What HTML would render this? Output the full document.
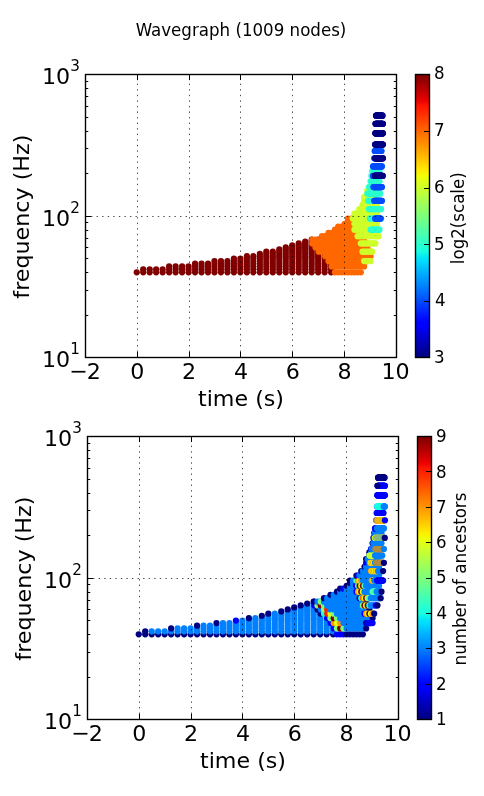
<!DOCTYPE html>
<html><head><meta charset="utf-8"><title>Wavegraph</title>
<style>html,body{margin:0;padding:0;background:#fff;width:484px;height:796px;overflow:hidden}svg{display:block}</style>
</head><body>
<svg width="484" height="796" viewBox="0 0 484 796">
<defs><linearGradient id="jetg" x1="0" y1="0" x2="0" y2="1"><stop offset="0.0000" stop-color="#800000"/><stop offset="0.0500" stop-color="#b60000"/><stop offset="0.0900" stop-color="#e80000"/><stop offset="0.1000" stop-color="#f10800"/><stop offset="0.1100" stop-color="#ff1300"/><stop offset="0.1500" stop-color="#ff3800"/><stop offset="0.2000" stop-color="#ff6800"/><stop offset="0.2500" stop-color="#ff9400"/><stop offset="0.3000" stop-color="#ffc400"/><stop offset="0.3400" stop-color="#feed00"/><stop offset="0.3500" stop-color="#f8f500"/><stop offset="0.3600" stop-color="#eeff09"/><stop offset="0.4000" stop-color="#ceff29"/><stop offset="0.4500" stop-color="#a4ff53"/><stop offset="0.5000" stop-color="#7dff7a"/><stop offset="0.5500" stop-color="#53ffa4"/><stop offset="0.6000" stop-color="#29ffce"/><stop offset="0.6250" stop-color="#16ffe1"/><stop offset="0.6500" stop-color="#00e4f8"/><stop offset="0.6500" stop-color="#00e4f8"/><stop offset="0.6600" stop-color="#00dcfe"/><stop offset="0.7000" stop-color="#00b0ff"/><stop offset="0.7500" stop-color="#0080ff"/><stop offset="0.8000" stop-color="#004cff"/><stop offset="0.8500" stop-color="#0018ff"/><stop offset="0.8750" stop-color="#0000ff"/><stop offset="0.8900" stop-color="#0000ff"/><stop offset="0.9000" stop-color="#0000f1"/><stop offset="0.9500" stop-color="#0000b6"/><stop offset="1.0000" stop-color="#000080"/></linearGradient>
<clipPath id="clip0"><rect x="85.5" y="74.5" width="311.0" height="283.0"/></clipPath>
<clipPath id="clip1"><rect x="87.5" y="436.5" width="311.0" height="283.0"/></clipPath></defs>
<rect width="484" height="796" fill="#fff"/>
<g font-family="'DejaVu Sans','Liberation Sans',sans-serif" fill="#000"><text transform="translate(241.00 35.80) scale(1 1.070)" text-anchor="middle" font-size="16.67">Wavegraph (1009 nodes)</text></g>
<g clip-path="url(#clip0)"><circle cx="136.74" cy="272.31" r="3.10" fill="#800000"/><circle cx="143.22" cy="272.31" r="3.10" fill="#800000"/><circle cx="143.22" cy="269.31" r="3.10" fill="#800000"/><circle cx="149.70" cy="272.31" r="3.10" fill="#800000"/><circle cx="149.70" cy="269.31" r="3.10" fill="#800000"/><circle cx="156.17" cy="272.31" r="3.10" fill="#800000"/><circle cx="156.17" cy="269.31" r="3.10" fill="#800000"/><circle cx="162.65" cy="272.31" r="3.10" fill="#800000"/><circle cx="162.65" cy="269.31" r="3.10" fill="#800000"/><circle cx="169.13" cy="272.31" r="3.10" fill="#800000"/><circle cx="169.13" cy="269.31" r="3.10" fill="#800000"/><circle cx="169.13" cy="266.45" r="3.10" fill="#800000"/><circle cx="175.61" cy="272.31" r="3.10" fill="#800000"/><circle cx="175.61" cy="269.31" r="3.10" fill="#800000"/><circle cx="175.61" cy="266.45" r="3.10" fill="#800000"/><circle cx="182.09" cy="272.31" r="3.10" fill="#800000"/><circle cx="182.09" cy="269.31" r="3.10" fill="#800000"/><circle cx="182.09" cy="266.45" r="3.10" fill="#800000"/><circle cx="188.57" cy="272.31" r="3.10" fill="#800000"/><circle cx="188.57" cy="269.31" r="3.10" fill="#800000"/><circle cx="188.57" cy="266.45" r="3.10" fill="#800000"/><circle cx="195.05" cy="272.31" r="3.10" fill="#800000"/><circle cx="195.05" cy="269.31" r="3.10" fill="#800000"/><circle cx="195.05" cy="266.45" r="3.10" fill="#800000"/><circle cx="195.05" cy="263.72" r="3.10" fill="#800000"/><circle cx="201.53" cy="272.31" r="3.10" fill="#800000"/><circle cx="201.53" cy="269.31" r="3.10" fill="#800000"/><circle cx="201.53" cy="266.45" r="3.10" fill="#800000"/><circle cx="201.53" cy="263.72" r="3.10" fill="#800000"/><circle cx="208.01" cy="272.31" r="3.10" fill="#800000"/><circle cx="208.01" cy="269.31" r="3.10" fill="#800000"/><circle cx="208.01" cy="266.45" r="3.10" fill="#800000"/><circle cx="208.01" cy="263.72" r="3.10" fill="#800000"/><circle cx="214.49" cy="272.31" r="3.10" fill="#800000"/><circle cx="214.49" cy="269.31" r="3.10" fill="#800000"/><circle cx="214.49" cy="266.45" r="3.10" fill="#800000"/><circle cx="214.49" cy="263.72" r="3.10" fill="#800000"/><circle cx="214.49" cy="261.10" r="3.10" fill="#800000"/><circle cx="220.97" cy="272.31" r="3.10" fill="#800000"/><circle cx="220.97" cy="269.31" r="3.10" fill="#800000"/><circle cx="220.97" cy="266.45" r="3.10" fill="#800000"/><circle cx="220.97" cy="263.72" r="3.10" fill="#800000"/><circle cx="220.97" cy="261.10" r="3.10" fill="#800000"/><circle cx="227.45" cy="272.31" r="3.10" fill="#800000"/><circle cx="227.45" cy="269.31" r="3.10" fill="#800000"/><circle cx="227.45" cy="266.45" r="3.10" fill="#800000"/><circle cx="227.45" cy="263.72" r="3.10" fill="#800000"/><circle cx="227.45" cy="261.10" r="3.10" fill="#800000"/><circle cx="233.92" cy="272.31" r="3.10" fill="#800000"/><circle cx="233.92" cy="269.31" r="3.10" fill="#800000"/><circle cx="233.92" cy="266.45" r="3.10" fill="#800000"/><circle cx="233.92" cy="263.72" r="3.10" fill="#800000"/><circle cx="233.92" cy="261.10" r="3.10" fill="#800000"/><circle cx="233.92" cy="258.60" r="3.10" fill="#800000"/><circle cx="240.40" cy="272.31" r="3.10" fill="#800000"/><circle cx="240.40" cy="269.31" r="3.10" fill="#800000"/><circle cx="240.40" cy="266.45" r="3.10" fill="#800000"/><circle cx="240.40" cy="263.72" r="3.10" fill="#800000"/><circle cx="240.40" cy="261.10" r="3.10" fill="#800000"/><circle cx="240.40" cy="258.60" r="3.10" fill="#800000"/><circle cx="246.88" cy="272.31" r="3.10" fill="#800000"/><circle cx="246.88" cy="269.31" r="3.10" fill="#800000"/><circle cx="246.88" cy="266.45" r="3.10" fill="#800000"/><circle cx="246.88" cy="263.72" r="3.10" fill="#800000"/><circle cx="246.88" cy="261.10" r="3.10" fill="#800000"/><circle cx="246.88" cy="258.60" r="3.10" fill="#800000"/><circle cx="246.88" cy="256.19" r="3.10" fill="#800000"/><circle cx="253.36" cy="272.31" r="3.10" fill="#800000"/><circle cx="253.36" cy="269.31" r="3.10" fill="#800000"/><circle cx="253.36" cy="266.45" r="3.10" fill="#800000"/><circle cx="253.36" cy="263.72" r="3.10" fill="#800000"/><circle cx="253.36" cy="261.10" r="3.10" fill="#800000"/><circle cx="253.36" cy="258.60" r="3.10" fill="#800000"/><circle cx="253.36" cy="256.19" r="3.10" fill="#800000"/><circle cx="259.84" cy="272.31" r="3.10" fill="#800000"/><circle cx="259.84" cy="269.31" r="3.10" fill="#800000"/><circle cx="259.84" cy="266.45" r="3.10" fill="#800000"/><circle cx="259.84" cy="263.72" r="3.10" fill="#800000"/><circle cx="259.84" cy="261.10" r="3.10" fill="#800000"/><circle cx="259.84" cy="258.60" r="3.10" fill="#800000"/><circle cx="259.84" cy="256.19" r="3.10" fill="#800000"/><circle cx="259.84" cy="253.87" r="3.10" fill="#800000"/><circle cx="266.32" cy="272.31" r="3.10" fill="#800000"/><circle cx="266.32" cy="269.31" r="3.10" fill="#800000"/><circle cx="266.32" cy="266.45" r="3.10" fill="#800000"/><circle cx="266.32" cy="263.72" r="3.10" fill="#800000"/><circle cx="266.32" cy="261.10" r="3.10" fill="#800000"/><circle cx="266.32" cy="258.60" r="3.10" fill="#800000"/><circle cx="266.32" cy="256.19" r="3.10" fill="#800000"/><circle cx="266.32" cy="253.87" r="3.10" fill="#800000"/><circle cx="266.32" cy="251.63" r="3.10" fill="#800000"/><circle cx="272.80" cy="272.31" r="3.10" fill="#800000"/><circle cx="272.80" cy="269.31" r="3.10" fill="#800000"/><circle cx="272.80" cy="266.45" r="3.10" fill="#800000"/><circle cx="272.80" cy="263.72" r="3.10" fill="#800000"/><circle cx="272.80" cy="261.10" r="3.10" fill="#800000"/><circle cx="272.80" cy="258.60" r="3.10" fill="#800000"/><circle cx="272.80" cy="256.19" r="3.10" fill="#800000"/><circle cx="272.80" cy="253.87" r="3.10" fill="#800000"/><circle cx="272.80" cy="251.63" r="3.10" fill="#800000"/><circle cx="279.28" cy="272.31" r="3.10" fill="#800000"/><circle cx="279.28" cy="269.31" r="3.10" fill="#800000"/><circle cx="279.28" cy="266.45" r="3.10" fill="#800000"/><circle cx="279.28" cy="263.72" r="3.10" fill="#800000"/><circle cx="279.28" cy="261.10" r="3.10" fill="#800000"/><circle cx="279.28" cy="258.60" r="3.10" fill="#800000"/><circle cx="279.28" cy="256.19" r="3.10" fill="#800000"/><circle cx="279.28" cy="253.87" r="3.10" fill="#800000"/><circle cx="279.28" cy="251.63" r="3.10" fill="#800000"/><circle cx="279.28" cy="249.47" r="3.10" fill="#800000"/><circle cx="285.76" cy="272.31" r="3.10" fill="#800000"/><circle cx="285.76" cy="269.31" r="3.10" fill="#800000"/><circle cx="285.76" cy="266.45" r="3.10" fill="#800000"/><circle cx="285.76" cy="263.72" r="3.10" fill="#800000"/><circle cx="285.76" cy="261.10" r="3.10" fill="#800000"/><circle cx="285.76" cy="258.60" r="3.10" fill="#800000"/><circle cx="285.76" cy="256.19" r="3.10" fill="#800000"/><circle cx="285.76" cy="253.87" r="3.10" fill="#800000"/><circle cx="285.76" cy="251.63" r="3.10" fill="#800000"/><circle cx="285.76" cy="249.47" r="3.10" fill="#800000"/><circle cx="285.76" cy="247.39" r="3.10" fill="#800000"/><circle cx="292.24" cy="272.31" r="3.10" fill="#800000"/><circle cx="292.24" cy="269.31" r="3.10" fill="#800000"/><circle cx="292.24" cy="266.45" r="3.10" fill="#800000"/><circle cx="292.24" cy="263.72" r="3.10" fill="#800000"/><circle cx="292.24" cy="261.10" r="3.10" fill="#800000"/><circle cx="292.24" cy="258.60" r="3.10" fill="#800000"/><circle cx="292.24" cy="256.19" r="3.10" fill="#800000"/><circle cx="292.24" cy="253.87" r="3.10" fill="#800000"/><circle cx="292.24" cy="251.63" r="3.10" fill="#800000"/><circle cx="292.24" cy="249.47" r="3.10" fill="#800000"/><circle cx="292.24" cy="247.39" r="3.10" fill="#800000"/><circle cx="292.24" cy="245.38" r="3.10" fill="#800000"/><circle cx="298.72" cy="272.31" r="3.10" fill="#800000"/><circle cx="298.72" cy="269.31" r="3.10" fill="#800000"/><circle cx="298.72" cy="266.45" r="3.10" fill="#800000"/><circle cx="298.72" cy="263.72" r="3.10" fill="#800000"/><circle cx="298.72" cy="261.10" r="3.10" fill="#800000"/><circle cx="298.72" cy="258.60" r="3.10" fill="#800000"/><circle cx="298.72" cy="256.19" r="3.10" fill="#800000"/><circle cx="298.72" cy="253.87" r="3.10" fill="#800000"/><circle cx="298.72" cy="251.63" r="3.10" fill="#800000"/><circle cx="298.72" cy="249.47" r="3.10" fill="#800000"/><circle cx="298.72" cy="247.39" r="3.10" fill="#800000"/><circle cx="298.72" cy="245.38" r="3.10" fill="#800000"/><circle cx="298.72" cy="243.43" r="3.10" fill="#800000"/><circle cx="305.20" cy="272.31" r="3.10" fill="#800000"/><circle cx="305.20" cy="269.31" r="3.10" fill="#800000"/><circle cx="305.20" cy="266.45" r="3.10" fill="#800000"/><circle cx="305.20" cy="263.72" r="3.10" fill="#800000"/><circle cx="305.20" cy="261.10" r="3.10" fill="#800000"/><circle cx="305.20" cy="258.60" r="3.10" fill="#800000"/><circle cx="305.20" cy="256.19" r="3.10" fill="#800000"/><circle cx="305.20" cy="253.87" r="3.10" fill="#800000"/><circle cx="305.20" cy="251.63" r="3.10" fill="#800000"/><circle cx="305.20" cy="249.47" r="3.10" fill="#800000"/><circle cx="305.20" cy="247.39" r="3.10" fill="#800000"/><circle cx="305.20" cy="245.38" r="3.10" fill="#800000"/><circle cx="305.20" cy="243.43" r="3.10" fill="#800000"/><circle cx="305.20" cy="241.53" r="3.10" fill="#800000"/><circle cx="311.67" cy="272.31" r="3.10" fill="#800000"/><circle cx="311.67" cy="269.31" r="3.10" fill="#800000"/><circle cx="311.67" cy="266.45" r="3.10" fill="#800000"/><circle cx="311.67" cy="263.72" r="3.10" fill="#800000"/><circle cx="311.67" cy="261.10" r="3.10" fill="#800000"/><circle cx="311.67" cy="258.60" r="3.10" fill="#800000"/><circle cx="311.67" cy="256.19" r="3.10" fill="#800000"/><circle cx="311.67" cy="253.87" r="3.10" fill="#800000"/><circle cx="311.67" cy="251.63" r="3.10" fill="#800000"/><circle cx="311.67" cy="249.47" r="3.10" fill="#800000"/><circle cx="311.67" cy="247.39" r="3.10" fill="#800000"/><circle cx="311.67" cy="245.38" r="3.10" fill="#800000"/><circle cx="311.67" cy="243.43" r="3.10" fill="#800000"/><circle cx="311.67" cy="241.53" r="3.10" fill="#800000"/><circle cx="311.67" cy="239.70" r="3.10" fill="#800000"/><circle cx="318.15" cy="272.31" r="3.10" fill="#800000"/><circle cx="318.15" cy="269.31" r="3.10" fill="#800000"/><circle cx="318.15" cy="266.45" r="3.10" fill="#800000"/><circle cx="318.15" cy="263.72" r="3.10" fill="#800000"/><circle cx="318.15" cy="261.10" r="3.10" fill="#800000"/><circle cx="318.15" cy="258.60" r="3.10" fill="#800000"/><circle cx="318.15" cy="256.19" r="3.10" fill="#800000"/><circle cx="318.15" cy="253.87" r="3.10" fill="#800000"/><circle cx="318.15" cy="251.63" r="3.10" fill="#800000"/><circle cx="318.15" cy="249.47" r="3.10" fill="#800000"/><circle cx="318.15" cy="247.39" r="3.10" fill="#800000"/><circle cx="318.15" cy="245.38" r="3.10" fill="#800000"/><circle cx="318.15" cy="243.43" r="3.10" fill="#800000"/><circle cx="318.15" cy="241.53" r="3.10" fill="#800000"/><circle cx="318.15" cy="239.70" r="3.10" fill="#800000"/><circle cx="324.63" cy="272.31" r="3.10" fill="#800000"/><circle cx="324.63" cy="269.31" r="3.10" fill="#800000"/><circle cx="324.63" cy="266.45" r="3.10" fill="#800000"/><circle cx="324.63" cy="263.72" r="3.10" fill="#800000"/><circle cx="324.63" cy="261.10" r="3.10" fill="#800000"/><circle cx="324.63" cy="258.60" r="3.10" fill="#800000"/><circle cx="324.63" cy="256.19" r="3.10" fill="#800000"/><circle cx="324.63" cy="253.87" r="3.10" fill="#800000"/><circle cx="324.63" cy="251.63" r="3.10" fill="#800000"/><circle cx="324.63" cy="249.47" r="3.10" fill="#800000"/><circle cx="324.63" cy="247.39" r="3.10" fill="#800000"/><circle cx="324.63" cy="245.38" r="3.10" fill="#800000"/><circle cx="324.63" cy="243.43" r="3.10" fill="#800000"/><circle cx="324.63" cy="241.53" r="3.10" fill="#800000"/><circle cx="324.63" cy="239.70" r="3.10" fill="#800000"/><circle cx="324.63" cy="237.92" r="3.10" fill="#800000"/><circle cx="331.11" cy="272.31" r="3.10" fill="#800000"/><circle cx="331.11" cy="269.31" r="3.10" fill="#800000"/><circle cx="331.11" cy="266.45" r="3.10" fill="#800000"/><circle cx="331.11" cy="263.72" r="3.10" fill="#800000"/><circle cx="331.11" cy="261.10" r="3.10" fill="#800000"/><circle cx="331.11" cy="258.60" r="3.10" fill="#800000"/><circle cx="331.11" cy="256.19" r="3.10" fill="#800000"/><circle cx="331.11" cy="253.87" r="3.10" fill="#800000"/><circle cx="331.11" cy="251.63" r="3.10" fill="#800000"/><circle cx="331.11" cy="249.47" r="3.10" fill="#800000"/><circle cx="331.11" cy="247.39" r="3.10" fill="#800000"/><circle cx="331.11" cy="245.38" r="3.10" fill="#800000"/><circle cx="331.11" cy="243.43" r="3.10" fill="#800000"/><circle cx="331.11" cy="241.53" r="3.10" fill="#800000"/><circle cx="331.11" cy="239.70" r="3.10" fill="#800000"/><circle cx="331.11" cy="237.92" r="3.10" fill="#800000"/><circle cx="331.11" cy="236.19" r="3.10" fill="#800000"/><circle cx="312.27" cy="243.43" r="3.10" fill="#ff6800"/><circle cx="312.27" cy="239.70" r="3.10" fill="#ff6800"/><circle cx="315.51" cy="247.39" r="3.10" fill="#ff6800"/><circle cx="315.51" cy="243.43" r="3.10" fill="#ff6800"/><circle cx="315.51" cy="239.70" r="3.10" fill="#ff6800"/><circle cx="318.75" cy="251.63" r="3.10" fill="#ff6800"/><circle cx="318.75" cy="247.39" r="3.10" fill="#ff6800"/><circle cx="318.75" cy="243.43" r="3.10" fill="#ff6800"/><circle cx="318.75" cy="239.70" r="3.10" fill="#ff6800"/><circle cx="321.99" cy="251.63" r="3.10" fill="#ff6800"/><circle cx="321.99" cy="247.39" r="3.10" fill="#ff6800"/><circle cx="321.99" cy="243.43" r="3.10" fill="#ff6800"/><circle cx="321.99" cy="239.70" r="3.10" fill="#ff6800"/><circle cx="321.99" cy="236.19" r="3.10" fill="#ff6800"/><circle cx="325.23" cy="256.19" r="3.10" fill="#ff6800"/><circle cx="325.23" cy="251.63" r="3.10" fill="#ff6800"/><circle cx="325.23" cy="247.39" r="3.10" fill="#ff6800"/><circle cx="325.23" cy="243.43" r="3.10" fill="#ff6800"/><circle cx="325.23" cy="239.70" r="3.10" fill="#ff6800"/><circle cx="325.23" cy="236.19" r="3.10" fill="#ff6800"/><circle cx="328.47" cy="261.10" r="3.10" fill="#ff6800"/><circle cx="328.47" cy="256.19" r="3.10" fill="#ff6800"/><circle cx="328.47" cy="251.63" r="3.10" fill="#ff6800"/><circle cx="328.47" cy="247.39" r="3.10" fill="#ff6800"/><circle cx="328.47" cy="243.43" r="3.10" fill="#ff6800"/><circle cx="328.47" cy="239.70" r="3.10" fill="#ff6800"/><circle cx="328.47" cy="236.19" r="3.10" fill="#ff6800"/><circle cx="328.47" cy="232.86" r="3.10" fill="#ff6800"/><circle cx="331.71" cy="266.45" r="3.10" fill="#ff6800"/><circle cx="331.71" cy="261.10" r="3.10" fill="#ff6800"/><circle cx="331.71" cy="256.19" r="3.10" fill="#ff6800"/><circle cx="331.71" cy="251.63" r="3.10" fill="#ff6800"/><circle cx="331.71" cy="247.39" r="3.10" fill="#ff6800"/><circle cx="331.71" cy="243.43" r="3.10" fill="#ff6800"/><circle cx="331.71" cy="239.70" r="3.10" fill="#ff6800"/><circle cx="331.71" cy="236.19" r="3.10" fill="#ff6800"/><circle cx="331.71" cy="232.86" r="3.10" fill="#ff6800"/><circle cx="334.95" cy="272.31" r="3.10" fill="#ff6800"/><circle cx="334.95" cy="266.45" r="3.10" fill="#ff6800"/><circle cx="334.95" cy="261.10" r="3.10" fill="#ff6800"/><circle cx="334.95" cy="256.19" r="3.10" fill="#ff6800"/><circle cx="334.95" cy="251.63" r="3.10" fill="#ff6800"/><circle cx="334.95" cy="247.39" r="3.10" fill="#ff6800"/><circle cx="334.95" cy="243.43" r="3.10" fill="#ff6800"/><circle cx="334.95" cy="239.70" r="3.10" fill="#ff6800"/><circle cx="334.95" cy="236.19" r="3.10" fill="#ff6800"/><circle cx="334.95" cy="232.86" r="3.10" fill="#ff6800"/><circle cx="334.95" cy="229.71" r="3.10" fill="#ff6800"/><circle cx="338.19" cy="272.31" r="3.10" fill="#ff6800"/><circle cx="338.19" cy="266.45" r="3.10" fill="#ff6800"/><circle cx="338.19" cy="261.10" r="3.10" fill="#ff6800"/><circle cx="338.19" cy="256.19" r="3.10" fill="#ff6800"/><circle cx="338.19" cy="251.63" r="3.10" fill="#ff6800"/><circle cx="338.19" cy="247.39" r="3.10" fill="#ff6800"/><circle cx="338.19" cy="243.43" r="3.10" fill="#ff6800"/><circle cx="338.19" cy="239.70" r="3.10" fill="#ff6800"/><circle cx="338.19" cy="236.19" r="3.10" fill="#ff6800"/><circle cx="338.19" cy="232.86" r="3.10" fill="#ff6800"/><circle cx="338.19" cy="229.71" r="3.10" fill="#ff6800"/><circle cx="338.19" cy="226.71" r="3.10" fill="#ff6800"/><circle cx="341.43" cy="272.31" r="3.10" fill="#ff6800"/><circle cx="341.43" cy="266.45" r="3.10" fill="#ff6800"/><circle cx="341.43" cy="261.10" r="3.10" fill="#ff6800"/><circle cx="341.43" cy="256.19" r="3.10" fill="#ff6800"/><circle cx="341.43" cy="251.63" r="3.10" fill="#ff6800"/><circle cx="341.43" cy="247.39" r="3.10" fill="#ff6800"/><circle cx="341.43" cy="243.43" r="3.10" fill="#ff6800"/><circle cx="341.43" cy="239.70" r="3.10" fill="#ff6800"/><circle cx="341.43" cy="236.19" r="3.10" fill="#ff6800"/><circle cx="341.43" cy="232.86" r="3.10" fill="#ff6800"/><circle cx="341.43" cy="229.71" r="3.10" fill="#ff6800"/><circle cx="341.43" cy="226.71" r="3.10" fill="#ff6800"/><circle cx="344.67" cy="272.31" r="3.10" fill="#ff6800"/><circle cx="344.67" cy="266.45" r="3.10" fill="#ff6800"/><circle cx="344.67" cy="261.10" r="3.10" fill="#ff6800"/><circle cx="344.67" cy="256.19" r="3.10" fill="#ff6800"/><circle cx="344.67" cy="251.63" r="3.10" fill="#ff6800"/><circle cx="344.67" cy="247.39" r="3.10" fill="#ff6800"/><circle cx="344.67" cy="243.43" r="3.10" fill="#ff6800"/><circle cx="344.67" cy="239.70" r="3.10" fill="#ff6800"/><circle cx="344.67" cy="236.19" r="3.10" fill="#ff6800"/><circle cx="344.67" cy="232.86" r="3.10" fill="#ff6800"/><circle cx="344.67" cy="229.71" r="3.10" fill="#ff6800"/><circle cx="344.67" cy="226.71" r="3.10" fill="#ff6800"/><circle cx="344.67" cy="223.86" r="3.10" fill="#ff6800"/><circle cx="347.91" cy="272.31" r="3.10" fill="#ff6800"/><circle cx="347.91" cy="266.45" r="3.10" fill="#ff6800"/><circle cx="347.91" cy="261.10" r="3.10" fill="#ff6800"/><circle cx="347.91" cy="256.19" r="3.10" fill="#ff6800"/><circle cx="347.91" cy="251.63" r="3.10" fill="#ff6800"/><circle cx="347.91" cy="247.39" r="3.10" fill="#ff6800"/><circle cx="347.91" cy="243.43" r="3.10" fill="#ff6800"/><circle cx="347.91" cy="239.70" r="3.10" fill="#ff6800"/><circle cx="347.91" cy="236.19" r="3.10" fill="#ff6800"/><circle cx="347.91" cy="232.86" r="3.10" fill="#ff6800"/><circle cx="347.91" cy="229.71" r="3.10" fill="#ff6800"/><circle cx="347.91" cy="226.71" r="3.10" fill="#ff6800"/><circle cx="347.91" cy="223.86" r="3.10" fill="#ff6800"/><circle cx="347.91" cy="221.12" r="3.10" fill="#ff6800"/><circle cx="347.91" cy="218.51" r="3.10" fill="#ff6800"/><circle cx="351.15" cy="272.31" r="3.10" fill="#ff6800"/><circle cx="351.15" cy="266.45" r="3.10" fill="#ff6800"/><circle cx="351.15" cy="261.10" r="3.10" fill="#ff6800"/><circle cx="351.15" cy="256.19" r="3.10" fill="#ff6800"/><circle cx="351.15" cy="251.63" r="3.10" fill="#ff6800"/><circle cx="351.15" cy="247.39" r="3.10" fill="#ff6800"/><circle cx="351.15" cy="243.43" r="3.10" fill="#ff6800"/><circle cx="351.15" cy="239.70" r="3.10" fill="#ff6800"/><circle cx="351.15" cy="236.19" r="3.10" fill="#ff6800"/><circle cx="351.15" cy="232.86" r="3.10" fill="#ff6800"/><circle cx="351.15" cy="229.71" r="3.10" fill="#ff6800"/><circle cx="351.15" cy="226.71" r="3.10" fill="#ff6800"/><circle cx="351.15" cy="223.86" r="3.10" fill="#ff6800"/><circle cx="351.15" cy="221.12" r="3.10" fill="#ff6800"/><circle cx="351.15" cy="218.51" r="3.10" fill="#ff6800"/><circle cx="354.39" cy="272.31" r="3.10" fill="#ff6800"/><circle cx="354.39" cy="266.45" r="3.10" fill="#ff6800"/><circle cx="354.39" cy="261.10" r="3.10" fill="#ff6800"/><circle cx="354.39" cy="256.19" r="3.10" fill="#ff6800"/><circle cx="354.39" cy="251.63" r="3.10" fill="#ff6800"/><circle cx="354.39" cy="247.39" r="3.10" fill="#ff6800"/><circle cx="354.39" cy="243.43" r="3.10" fill="#ff6800"/><circle cx="354.39" cy="239.70" r="3.10" fill="#ff6800"/><circle cx="354.39" cy="236.19" r="3.10" fill="#ff6800"/><circle cx="354.39" cy="232.86" r="3.10" fill="#ff6800"/><circle cx="354.39" cy="229.71" r="3.10" fill="#ff6800"/><circle cx="354.39" cy="226.71" r="3.10" fill="#ff6800"/><circle cx="354.39" cy="223.86" r="3.10" fill="#ff6800"/><circle cx="354.39" cy="221.12" r="3.10" fill="#ff6800"/><circle cx="354.39" cy="218.51" r="3.10" fill="#ff6800"/><circle cx="357.62" cy="272.31" r="3.10" fill="#ff6800"/><circle cx="357.62" cy="266.45" r="3.10" fill="#ff6800"/><circle cx="357.62" cy="261.10" r="3.10" fill="#ff6800"/><circle cx="357.62" cy="256.19" r="3.10" fill="#ff6800"/><circle cx="357.62" cy="251.63" r="3.10" fill="#ff6800"/><circle cx="357.62" cy="247.39" r="3.10" fill="#ff6800"/><circle cx="357.62" cy="243.43" r="3.10" fill="#ff6800"/><circle cx="357.62" cy="239.70" r="3.10" fill="#ff6800"/><circle cx="357.62" cy="236.19" r="3.10" fill="#ff6800"/><circle cx="357.62" cy="232.86" r="3.10" fill="#ff6800"/><circle cx="357.62" cy="229.71" r="3.10" fill="#ff6800"/><circle cx="357.62" cy="226.71" r="3.10" fill="#ff6800"/><circle cx="360.86" cy="272.31" r="3.10" fill="#ff6800"/><circle cx="360.86" cy="266.45" r="3.10" fill="#ff6800"/><circle cx="360.86" cy="261.10" r="3.10" fill="#ff6800"/><circle cx="360.86" cy="256.19" r="3.10" fill="#ff6800"/><circle cx="360.86" cy="251.63" r="3.10" fill="#ff6800"/><circle cx="360.86" cy="247.39" r="3.10" fill="#ff6800"/><circle cx="360.86" cy="243.43" r="3.10" fill="#ff6800"/><circle cx="360.86" cy="239.70" r="3.10" fill="#ff6800"/><circle cx="360.86" cy="236.19" r="3.10" fill="#ff6800"/><circle cx="360.86" cy="232.86" r="3.10" fill="#ff6800"/><circle cx="364.10" cy="266.45" r="3.10" fill="#ff6800"/><circle cx="364.10" cy="261.10" r="3.10" fill="#ff6800"/><circle cx="364.10" cy="256.19" r="3.10" fill="#ff6800"/><circle cx="364.10" cy="251.63" r="3.10" fill="#ff6800"/><circle cx="364.10" cy="247.39" r="3.10" fill="#ff6800"/><circle cx="364.10" cy="243.43" r="3.10" fill="#ff6800"/><circle cx="364.10" cy="239.70" r="3.10" fill="#ff6800"/><circle cx="367.34" cy="261.10" r="3.10" fill="#ff6800"/><circle cx="367.34" cy="256.19" r="3.10" fill="#ff6800"/><circle cx="367.34" cy="251.63" r="3.10" fill="#ff6800"/><circle cx="367.34" cy="247.39" r="3.10" fill="#ff6800"/><circle cx="367.34" cy="243.43" r="3.10" fill="#ff6800"/><circle cx="370.58" cy="256.19" r="3.10" fill="#ff6800"/><circle cx="370.58" cy="251.63" r="3.10" fill="#ff6800"/><circle cx="352.77" cy="218.51" r="3.10" fill="#ceff29"/><circle cx="354.39" cy="229.71" r="3.10" fill="#ceff29"/><circle cx="354.39" cy="223.86" r="3.10" fill="#ceff29"/><circle cx="354.39" cy="218.51" r="3.10" fill="#ceff29"/><circle cx="354.39" cy="213.59" r="3.10" fill="#ceff29"/><circle cx="356.01" cy="229.71" r="3.10" fill="#ceff29"/><circle cx="356.01" cy="223.86" r="3.10" fill="#ceff29"/><circle cx="356.01" cy="218.51" r="3.10" fill="#ceff29"/><circle cx="356.01" cy="213.59" r="3.10" fill="#ceff29"/><circle cx="357.62" cy="236.19" r="3.10" fill="#ceff29"/><circle cx="357.62" cy="229.71" r="3.10" fill="#ceff29"/><circle cx="357.62" cy="223.86" r="3.10" fill="#ceff29"/><circle cx="357.62" cy="218.51" r="3.10" fill="#ceff29"/><circle cx="357.62" cy="213.59" r="3.10" fill="#ceff29"/><circle cx="359.24" cy="236.19" r="3.10" fill="#ceff29"/><circle cx="359.24" cy="229.71" r="3.10" fill="#ceff29"/><circle cx="359.24" cy="223.86" r="3.10" fill="#ceff29"/><circle cx="359.24" cy="218.51" r="3.10" fill="#ceff29"/><circle cx="359.24" cy="213.59" r="3.10" fill="#ceff29"/><circle cx="359.24" cy="209.04" r="3.10" fill="#ceff29"/><circle cx="360.86" cy="243.43" r="3.10" fill="#ceff29"/><circle cx="360.86" cy="236.19" r="3.10" fill="#ceff29"/><circle cx="360.86" cy="229.71" r="3.10" fill="#ceff29"/><circle cx="360.86" cy="223.86" r="3.10" fill="#ceff29"/><circle cx="360.86" cy="218.51" r="3.10" fill="#ceff29"/><circle cx="360.86" cy="213.59" r="3.10" fill="#ceff29"/><circle cx="360.86" cy="209.04" r="3.10" fill="#ceff29"/><circle cx="362.48" cy="251.63" r="3.10" fill="#ceff29"/><circle cx="362.48" cy="243.43" r="3.10" fill="#ceff29"/><circle cx="362.48" cy="236.19" r="3.10" fill="#ceff29"/><circle cx="362.48" cy="229.71" r="3.10" fill="#ceff29"/><circle cx="362.48" cy="223.86" r="3.10" fill="#ceff29"/><circle cx="362.48" cy="218.51" r="3.10" fill="#ceff29"/><circle cx="362.48" cy="213.59" r="3.10" fill="#ceff29"/><circle cx="362.48" cy="209.04" r="3.10" fill="#ceff29"/><circle cx="362.48" cy="204.80" r="3.10" fill="#ceff29"/><circle cx="364.10" cy="261.10" r="3.10" fill="#ceff29"/><circle cx="364.10" cy="251.63" r="3.10" fill="#ceff29"/><circle cx="364.10" cy="243.43" r="3.10" fill="#ceff29"/><circle cx="364.10" cy="236.19" r="3.10" fill="#ceff29"/><circle cx="364.10" cy="229.71" r="3.10" fill="#ceff29"/><circle cx="364.10" cy="223.86" r="3.10" fill="#ceff29"/><circle cx="364.10" cy="218.51" r="3.10" fill="#ceff29"/><circle cx="364.10" cy="213.59" r="3.10" fill="#ceff29"/><circle cx="364.10" cy="209.04" r="3.10" fill="#ceff29"/><circle cx="364.10" cy="204.80" r="3.10" fill="#ceff29"/><circle cx="364.10" cy="200.83" r="3.10" fill="#ceff29"/><circle cx="364.10" cy="197.10" r="3.10" fill="#ceff29"/><circle cx="365.72" cy="261.10" r="3.10" fill="#ceff29"/><circle cx="365.72" cy="251.63" r="3.10" fill="#ceff29"/><circle cx="365.72" cy="243.43" r="3.10" fill="#ceff29"/><circle cx="365.72" cy="236.19" r="3.10" fill="#ceff29"/><circle cx="365.72" cy="229.71" r="3.10" fill="#ceff29"/><circle cx="365.72" cy="223.86" r="3.10" fill="#ceff29"/><circle cx="365.72" cy="218.51" r="3.10" fill="#ceff29"/><circle cx="365.72" cy="213.59" r="3.10" fill="#ceff29"/><circle cx="365.72" cy="209.04" r="3.10" fill="#ceff29"/><circle cx="365.72" cy="204.80" r="3.10" fill="#ceff29"/><circle cx="365.72" cy="200.83" r="3.10" fill="#ceff29"/><circle cx="365.72" cy="197.10" r="3.10" fill="#ceff29"/><circle cx="367.34" cy="261.10" r="3.10" fill="#ceff29"/><circle cx="367.34" cy="251.63" r="3.10" fill="#ceff29"/><circle cx="367.34" cy="243.43" r="3.10" fill="#ceff29"/><circle cx="367.34" cy="236.19" r="3.10" fill="#ceff29"/><circle cx="367.34" cy="229.71" r="3.10" fill="#ceff29"/><circle cx="367.34" cy="223.86" r="3.10" fill="#ceff29"/><circle cx="367.34" cy="218.51" r="3.10" fill="#ceff29"/><circle cx="367.34" cy="213.59" r="3.10" fill="#ceff29"/><circle cx="367.34" cy="209.04" r="3.10" fill="#ceff29"/><circle cx="367.34" cy="204.80" r="3.10" fill="#ceff29"/><circle cx="367.34" cy="200.83" r="3.10" fill="#ceff29"/><circle cx="367.34" cy="197.10" r="3.10" fill="#ceff29"/><circle cx="367.34" cy="193.59" r="3.10" fill="#ceff29"/><circle cx="367.34" cy="190.27" r="3.10" fill="#ceff29"/><circle cx="368.96" cy="261.10" r="3.10" fill="#ceff29"/><circle cx="368.96" cy="251.63" r="3.10" fill="#ceff29"/><circle cx="368.96" cy="243.43" r="3.10" fill="#ceff29"/><circle cx="368.96" cy="236.19" r="3.10" fill="#ceff29"/><circle cx="368.96" cy="229.71" r="3.10" fill="#ceff29"/><circle cx="368.96" cy="223.86" r="3.10" fill="#ceff29"/><circle cx="368.96" cy="218.51" r="3.10" fill="#ceff29"/><circle cx="368.96" cy="213.59" r="3.10" fill="#ceff29"/><circle cx="368.96" cy="209.04" r="3.10" fill="#ceff29"/><circle cx="368.96" cy="204.80" r="3.10" fill="#ceff29"/><circle cx="368.96" cy="200.83" r="3.10" fill="#ceff29"/><circle cx="368.96" cy="197.10" r="3.10" fill="#ceff29"/><circle cx="368.96" cy="193.59" r="3.10" fill="#ceff29"/><circle cx="368.96" cy="190.27" r="3.10" fill="#ceff29"/><circle cx="370.58" cy="261.10" r="3.10" fill="#ceff29"/><circle cx="370.58" cy="251.63" r="3.10" fill="#ceff29"/><circle cx="370.58" cy="243.43" r="3.10" fill="#ceff29"/><circle cx="370.58" cy="236.19" r="3.10" fill="#ceff29"/><circle cx="370.58" cy="229.71" r="3.10" fill="#ceff29"/><circle cx="370.58" cy="223.86" r="3.10" fill="#ceff29"/><circle cx="370.58" cy="218.51" r="3.10" fill="#ceff29"/><circle cx="370.58" cy="213.59" r="3.10" fill="#ceff29"/><circle cx="370.58" cy="209.04" r="3.10" fill="#ceff29"/><circle cx="370.58" cy="204.80" r="3.10" fill="#ceff29"/><circle cx="370.58" cy="200.83" r="3.10" fill="#ceff29"/><circle cx="370.58" cy="197.10" r="3.10" fill="#ceff29"/><circle cx="370.58" cy="193.59" r="3.10" fill="#ceff29"/><circle cx="370.58" cy="190.27" r="3.10" fill="#ceff29"/><circle cx="372.20" cy="251.63" r="3.10" fill="#ceff29"/><circle cx="372.20" cy="243.43" r="3.10" fill="#ceff29"/><circle cx="372.20" cy="236.19" r="3.10" fill="#ceff29"/><circle cx="372.20" cy="229.71" r="3.10" fill="#ceff29"/><circle cx="372.20" cy="223.86" r="3.10" fill="#ceff29"/><circle cx="372.20" cy="218.51" r="3.10" fill="#ceff29"/><circle cx="372.20" cy="213.59" r="3.10" fill="#ceff29"/><circle cx="372.20" cy="209.04" r="3.10" fill="#ceff29"/><circle cx="372.20" cy="204.80" r="3.10" fill="#ceff29"/><circle cx="372.20" cy="200.83" r="3.10" fill="#ceff29"/><circle cx="372.20" cy="197.10" r="3.10" fill="#ceff29"/><circle cx="372.20" cy="193.59" r="3.10" fill="#ceff29"/><circle cx="372.20" cy="190.27" r="3.10" fill="#ceff29"/><circle cx="373.82" cy="243.43" r="3.10" fill="#ceff29"/><circle cx="373.82" cy="236.19" r="3.10" fill="#ceff29"/><circle cx="373.82" cy="229.71" r="3.10" fill="#ceff29"/><circle cx="373.82" cy="223.86" r="3.10" fill="#ceff29"/><circle cx="373.82" cy="218.51" r="3.10" fill="#ceff29"/><circle cx="373.82" cy="213.59" r="3.10" fill="#ceff29"/><circle cx="373.82" cy="209.04" r="3.10" fill="#ceff29"/><circle cx="373.82" cy="204.80" r="3.10" fill="#ceff29"/><circle cx="373.82" cy="200.83" r="3.10" fill="#ceff29"/><circle cx="373.82" cy="197.10" r="3.10" fill="#ceff29"/><circle cx="373.82" cy="193.59" r="3.10" fill="#ceff29"/><circle cx="373.82" cy="190.27" r="3.10" fill="#ceff29"/><circle cx="375.44" cy="243.43" r="3.10" fill="#ceff29"/><circle cx="375.44" cy="236.19" r="3.10" fill="#ceff29"/><circle cx="375.44" cy="229.71" r="3.10" fill="#ceff29"/><circle cx="375.44" cy="223.86" r="3.10" fill="#ceff29"/><circle cx="375.44" cy="218.51" r="3.10" fill="#ceff29"/><circle cx="375.44" cy="213.59" r="3.10" fill="#ceff29"/><circle cx="375.44" cy="209.04" r="3.10" fill="#ceff29"/><circle cx="375.44" cy="204.80" r="3.10" fill="#ceff29"/><circle cx="375.44" cy="200.83" r="3.10" fill="#ceff29"/><circle cx="375.44" cy="197.10" r="3.10" fill="#ceff29"/><circle cx="375.44" cy="193.59" r="3.10" fill="#ceff29"/><circle cx="375.44" cy="190.27" r="3.10" fill="#ceff29"/><circle cx="377.06" cy="236.19" r="3.10" fill="#ceff29"/><circle cx="377.06" cy="229.71" r="3.10" fill="#ceff29"/><circle cx="377.06" cy="223.86" r="3.10" fill="#ceff29"/><circle cx="377.06" cy="218.51" r="3.10" fill="#ceff29"/><circle cx="377.06" cy="213.59" r="3.10" fill="#ceff29"/><circle cx="377.06" cy="209.04" r="3.10" fill="#ceff29"/><circle cx="377.06" cy="204.80" r="3.10" fill="#ceff29"/><circle cx="377.06" cy="200.83" r="3.10" fill="#ceff29"/><circle cx="378.68" cy="236.19" r="3.10" fill="#ceff29"/><circle cx="367.34" cy="193.59" r="3.10" fill="#29ffce"/><circle cx="368.15" cy="200.83" r="3.10" fill="#29ffce"/><circle cx="368.15" cy="193.59" r="3.10" fill="#29ffce"/><circle cx="368.96" cy="209.04" r="3.10" fill="#29ffce"/><circle cx="368.96" cy="200.83" r="3.10" fill="#29ffce"/><circle cx="368.96" cy="193.59" r="3.10" fill="#29ffce"/><circle cx="368.96" cy="187.12" r="3.10" fill="#29ffce"/><circle cx="369.77" cy="218.51" r="3.10" fill="#29ffce"/><circle cx="369.77" cy="209.04" r="3.10" fill="#29ffce"/><circle cx="369.77" cy="200.83" r="3.10" fill="#29ffce"/><circle cx="369.77" cy="193.59" r="3.10" fill="#29ffce"/><circle cx="369.77" cy="187.12" r="3.10" fill="#29ffce"/><circle cx="370.58" cy="229.71" r="3.10" fill="#29ffce"/><circle cx="370.58" cy="218.51" r="3.10" fill="#29ffce"/><circle cx="370.58" cy="209.04" r="3.10" fill="#29ffce"/><circle cx="370.58" cy="200.83" r="3.10" fill="#29ffce"/><circle cx="370.58" cy="193.59" r="3.10" fill="#29ffce"/><circle cx="370.58" cy="187.12" r="3.10" fill="#29ffce"/><circle cx="370.58" cy="181.26" r="3.10" fill="#29ffce"/><circle cx="371.39" cy="229.71" r="3.10" fill="#29ffce"/><circle cx="371.39" cy="218.51" r="3.10" fill="#29ffce"/><circle cx="371.39" cy="209.04" r="3.10" fill="#29ffce"/><circle cx="371.39" cy="200.83" r="3.10" fill="#29ffce"/><circle cx="371.39" cy="193.59" r="3.10" fill="#29ffce"/><circle cx="371.39" cy="187.12" r="3.10" fill="#29ffce"/><circle cx="371.39" cy="181.26" r="3.10" fill="#29ffce"/><circle cx="371.39" cy="175.91" r="3.10" fill="#29ffce"/><circle cx="372.20" cy="229.71" r="3.10" fill="#29ffce"/><circle cx="372.20" cy="218.51" r="3.10" fill="#29ffce"/><circle cx="372.20" cy="209.04" r="3.10" fill="#29ffce"/><circle cx="372.20" cy="200.83" r="3.10" fill="#29ffce"/><circle cx="372.20" cy="193.59" r="3.10" fill="#29ffce"/><circle cx="372.20" cy="187.12" r="3.10" fill="#29ffce"/><circle cx="372.20" cy="181.26" r="3.10" fill="#29ffce"/><circle cx="372.20" cy="175.91" r="3.10" fill="#29ffce"/><circle cx="372.20" cy="170.99" r="3.10" fill="#29ffce"/><circle cx="373.01" cy="229.71" r="3.10" fill="#29ffce"/><circle cx="373.01" cy="218.51" r="3.10" fill="#29ffce"/><circle cx="373.01" cy="209.04" r="3.10" fill="#29ffce"/><circle cx="373.01" cy="200.83" r="3.10" fill="#29ffce"/><circle cx="373.01" cy="193.59" r="3.10" fill="#29ffce"/><circle cx="373.01" cy="187.12" r="3.10" fill="#29ffce"/><circle cx="373.01" cy="181.26" r="3.10" fill="#29ffce"/><circle cx="373.01" cy="175.91" r="3.10" fill="#29ffce"/><circle cx="373.01" cy="170.99" r="3.10" fill="#29ffce"/><circle cx="373.82" cy="229.71" r="3.10" fill="#29ffce"/><circle cx="373.82" cy="218.51" r="3.10" fill="#29ffce"/><circle cx="373.82" cy="209.04" r="3.10" fill="#29ffce"/><circle cx="373.82" cy="200.83" r="3.10" fill="#29ffce"/><circle cx="373.82" cy="193.59" r="3.10" fill="#29ffce"/><circle cx="373.82" cy="187.12" r="3.10" fill="#29ffce"/><circle cx="373.82" cy="181.26" r="3.10" fill="#29ffce"/><circle cx="373.82" cy="175.91" r="3.10" fill="#29ffce"/><circle cx="373.82" cy="170.99" r="3.10" fill="#29ffce"/><circle cx="374.63" cy="229.71" r="3.10" fill="#29ffce"/><circle cx="374.63" cy="218.51" r="3.10" fill="#29ffce"/><circle cx="374.63" cy="209.04" r="3.10" fill="#29ffce"/><circle cx="374.63" cy="200.83" r="3.10" fill="#29ffce"/><circle cx="374.63" cy="193.59" r="3.10" fill="#29ffce"/><circle cx="374.63" cy="187.12" r="3.10" fill="#29ffce"/><circle cx="374.63" cy="181.26" r="3.10" fill="#29ffce"/><circle cx="374.63" cy="175.91" r="3.10" fill="#29ffce"/><circle cx="374.63" cy="170.99" r="3.10" fill="#29ffce"/><circle cx="375.44" cy="229.71" r="3.10" fill="#29ffce"/><circle cx="375.44" cy="218.51" r="3.10" fill="#29ffce"/><circle cx="375.44" cy="209.04" r="3.10" fill="#29ffce"/><circle cx="375.44" cy="200.83" r="3.10" fill="#29ffce"/><circle cx="375.44" cy="193.59" r="3.10" fill="#29ffce"/><circle cx="375.44" cy="187.12" r="3.10" fill="#29ffce"/><circle cx="375.44" cy="181.26" r="3.10" fill="#29ffce"/><circle cx="375.44" cy="175.91" r="3.10" fill="#29ffce"/><circle cx="375.44" cy="170.99" r="3.10" fill="#29ffce"/><circle cx="376.25" cy="229.71" r="3.10" fill="#29ffce"/><circle cx="376.25" cy="218.51" r="3.10" fill="#29ffce"/><circle cx="376.25" cy="209.04" r="3.10" fill="#29ffce"/><circle cx="376.25" cy="200.83" r="3.10" fill="#29ffce"/><circle cx="376.25" cy="193.59" r="3.10" fill="#29ffce"/><circle cx="376.25" cy="187.12" r="3.10" fill="#29ffce"/><circle cx="376.25" cy="181.26" r="3.10" fill="#29ffce"/><circle cx="376.25" cy="175.91" r="3.10" fill="#29ffce"/><circle cx="376.25" cy="170.99" r="3.10" fill="#29ffce"/><circle cx="377.06" cy="229.71" r="3.10" fill="#29ffce"/><circle cx="377.06" cy="218.51" r="3.10" fill="#29ffce"/><circle cx="377.06" cy="209.04" r="3.10" fill="#29ffce"/><circle cx="377.06" cy="200.83" r="3.10" fill="#29ffce"/><circle cx="377.06" cy="193.59" r="3.10" fill="#29ffce"/><circle cx="377.06" cy="187.12" r="3.10" fill="#29ffce"/><circle cx="377.06" cy="181.26" r="3.10" fill="#29ffce"/><circle cx="377.06" cy="175.91" r="3.10" fill="#29ffce"/><circle cx="377.06" cy="170.99" r="3.10" fill="#29ffce"/><circle cx="377.87" cy="229.71" r="3.10" fill="#29ffce"/><circle cx="377.87" cy="218.51" r="3.10" fill="#29ffce"/><circle cx="377.87" cy="209.04" r="3.10" fill="#29ffce"/><circle cx="377.87" cy="200.83" r="3.10" fill="#29ffce"/><circle cx="377.87" cy="193.59" r="3.10" fill="#29ffce"/><circle cx="377.87" cy="187.12" r="3.10" fill="#29ffce"/><circle cx="377.87" cy="181.26" r="3.10" fill="#29ffce"/><circle cx="377.87" cy="175.91" r="3.10" fill="#29ffce"/><circle cx="377.87" cy="170.99" r="3.10" fill="#29ffce"/><circle cx="378.68" cy="229.71" r="3.10" fill="#29ffce"/><circle cx="378.68" cy="218.51" r="3.10" fill="#29ffce"/><circle cx="378.68" cy="209.04" r="3.10" fill="#29ffce"/><circle cx="378.68" cy="200.83" r="3.10" fill="#29ffce"/><circle cx="378.68" cy="193.59" r="3.10" fill="#29ffce"/><circle cx="378.68" cy="187.12" r="3.10" fill="#29ffce"/><circle cx="378.68" cy="181.26" r="3.10" fill="#29ffce"/><circle cx="378.68" cy="175.91" r="3.10" fill="#29ffce"/><circle cx="378.68" cy="170.99" r="3.10" fill="#29ffce"/><circle cx="379.49" cy="229.71" r="3.10" fill="#29ffce"/><circle cx="379.49" cy="218.51" r="3.10" fill="#29ffce"/><circle cx="379.49" cy="209.04" r="3.10" fill="#29ffce"/><circle cx="379.49" cy="200.83" r="3.10" fill="#29ffce"/><circle cx="379.49" cy="193.59" r="3.10" fill="#29ffce"/><circle cx="379.49" cy="187.12" r="3.10" fill="#29ffce"/><circle cx="379.49" cy="181.26" r="3.10" fill="#29ffce"/><circle cx="379.49" cy="175.91" r="3.10" fill="#29ffce"/><circle cx="379.49" cy="170.99" r="3.10" fill="#29ffce"/><circle cx="380.30" cy="218.51" r="3.10" fill="#29ffce"/><circle cx="380.30" cy="209.04" r="3.10" fill="#29ffce"/><circle cx="380.30" cy="200.83" r="3.10" fill="#29ffce"/><circle cx="380.30" cy="193.59" r="3.10" fill="#29ffce"/><circle cx="380.30" cy="187.12" r="3.10" fill="#29ffce"/><circle cx="381.11" cy="218.51" r="3.10" fill="#29ffce"/><circle cx="381.11" cy="209.04" r="3.10" fill="#29ffce"/><circle cx="381.11" cy="200.83" r="3.10" fill="#29ffce"/><circle cx="373.01" cy="175.91" r="3.10" fill="#004cff"/><circle cx="373.01" cy="166.44" r="3.10" fill="#004cff"/><circle cx="373.42" cy="187.12" r="3.10" fill="#004cff"/><circle cx="373.42" cy="175.91" r="3.10" fill="#004cff"/><circle cx="373.42" cy="166.44" r="3.10" fill="#004cff"/><circle cx="373.82" cy="187.12" r="3.10" fill="#004cff"/><circle cx="373.82" cy="175.91" r="3.10" fill="#004cff"/><circle cx="373.82" cy="166.44" r="3.10" fill="#004cff"/><circle cx="374.23" cy="200.83" r="3.10" fill="#004cff"/><circle cx="374.23" cy="187.12" r="3.10" fill="#004cff"/><circle cx="374.23" cy="175.91" r="3.10" fill="#004cff"/><circle cx="374.23" cy="166.44" r="3.10" fill="#004cff"/><circle cx="374.23" cy="158.23" r="3.10" fill="#004cff"/><circle cx="374.63" cy="200.83" r="3.10" fill="#004cff"/><circle cx="374.63" cy="187.12" r="3.10" fill="#004cff"/><circle cx="374.63" cy="175.91" r="3.10" fill="#004cff"/><circle cx="374.63" cy="166.44" r="3.10" fill="#004cff"/><circle cx="374.63" cy="158.23" r="3.10" fill="#004cff"/><circle cx="374.63" cy="151.00" r="3.10" fill="#004cff"/><circle cx="375.04" cy="218.51" r="3.10" fill="#004cff"/><circle cx="375.04" cy="200.83" r="3.10" fill="#004cff"/><circle cx="375.04" cy="187.12" r="3.10" fill="#004cff"/><circle cx="375.04" cy="175.91" r="3.10" fill="#004cff"/><circle cx="375.04" cy="166.44" r="3.10" fill="#004cff"/><circle cx="375.04" cy="158.23" r="3.10" fill="#004cff"/><circle cx="375.04" cy="151.00" r="3.10" fill="#004cff"/><circle cx="375.44" cy="218.51" r="3.10" fill="#004cff"/><circle cx="375.44" cy="200.83" r="3.10" fill="#004cff"/><circle cx="375.44" cy="187.12" r="3.10" fill="#004cff"/><circle cx="375.44" cy="175.91" r="3.10" fill="#004cff"/><circle cx="375.44" cy="166.44" r="3.10" fill="#004cff"/><circle cx="375.44" cy="158.23" r="3.10" fill="#004cff"/><circle cx="375.44" cy="151.00" r="3.10" fill="#004cff"/><circle cx="375.85" cy="218.51" r="3.10" fill="#004cff"/><circle cx="375.85" cy="200.83" r="3.10" fill="#004cff"/><circle cx="375.85" cy="187.12" r="3.10" fill="#004cff"/><circle cx="375.85" cy="175.91" r="3.10" fill="#004cff"/><circle cx="375.85" cy="166.44" r="3.10" fill="#004cff"/><circle cx="375.85" cy="158.23" r="3.10" fill="#004cff"/><circle cx="375.85" cy="151.00" r="3.10" fill="#004cff"/><circle cx="376.25" cy="218.51" r="3.10" fill="#004cff"/><circle cx="376.25" cy="200.83" r="3.10" fill="#004cff"/><circle cx="376.25" cy="187.12" r="3.10" fill="#004cff"/><circle cx="376.25" cy="175.91" r="3.10" fill="#004cff"/><circle cx="376.25" cy="166.44" r="3.10" fill="#004cff"/><circle cx="376.25" cy="158.23" r="3.10" fill="#004cff"/><circle cx="376.25" cy="151.00" r="3.10" fill="#004cff"/><circle cx="376.66" cy="218.51" r="3.10" fill="#004cff"/><circle cx="376.66" cy="200.83" r="3.10" fill="#004cff"/><circle cx="376.66" cy="187.12" r="3.10" fill="#004cff"/><circle cx="376.66" cy="175.91" r="3.10" fill="#004cff"/><circle cx="376.66" cy="166.44" r="3.10" fill="#004cff"/><circle cx="376.66" cy="158.23" r="3.10" fill="#004cff"/><circle cx="376.66" cy="151.00" r="3.10" fill="#004cff"/><circle cx="377.06" cy="218.51" r="3.10" fill="#004cff"/><circle cx="377.06" cy="200.83" r="3.10" fill="#004cff"/><circle cx="377.06" cy="187.12" r="3.10" fill="#004cff"/><circle cx="377.06" cy="175.91" r="3.10" fill="#004cff"/><circle cx="377.06" cy="166.44" r="3.10" fill="#004cff"/><circle cx="377.06" cy="158.23" r="3.10" fill="#004cff"/><circle cx="377.06" cy="151.00" r="3.10" fill="#004cff"/><circle cx="377.47" cy="218.51" r="3.10" fill="#004cff"/><circle cx="377.47" cy="200.83" r="3.10" fill="#004cff"/><circle cx="377.47" cy="187.12" r="3.10" fill="#004cff"/><circle cx="377.47" cy="175.91" r="3.10" fill="#004cff"/><circle cx="377.47" cy="166.44" r="3.10" fill="#004cff"/><circle cx="377.47" cy="158.23" r="3.10" fill="#004cff"/><circle cx="377.47" cy="151.00" r="3.10" fill="#004cff"/><circle cx="377.87" cy="218.51" r="3.10" fill="#004cff"/><circle cx="377.87" cy="200.83" r="3.10" fill="#004cff"/><circle cx="377.87" cy="187.12" r="3.10" fill="#004cff"/><circle cx="377.87" cy="175.91" r="3.10" fill="#004cff"/><circle cx="377.87" cy="166.44" r="3.10" fill="#004cff"/><circle cx="377.87" cy="158.23" r="3.10" fill="#004cff"/><circle cx="377.87" cy="151.00" r="3.10" fill="#004cff"/><circle cx="378.28" cy="218.51" r="3.10" fill="#004cff"/><circle cx="378.28" cy="200.83" r="3.10" fill="#004cff"/><circle cx="378.28" cy="187.12" r="3.10" fill="#004cff"/><circle cx="378.28" cy="175.91" r="3.10" fill="#004cff"/><circle cx="378.28" cy="166.44" r="3.10" fill="#004cff"/><circle cx="378.28" cy="158.23" r="3.10" fill="#004cff"/><circle cx="378.28" cy="151.00" r="3.10" fill="#004cff"/><circle cx="378.68" cy="218.51" r="3.10" fill="#004cff"/><circle cx="378.68" cy="200.83" r="3.10" fill="#004cff"/><circle cx="378.68" cy="187.12" r="3.10" fill="#004cff"/><circle cx="378.68" cy="175.91" r="3.10" fill="#004cff"/><circle cx="378.68" cy="166.44" r="3.10" fill="#004cff"/><circle cx="378.68" cy="158.23" r="3.10" fill="#004cff"/><circle cx="378.68" cy="151.00" r="3.10" fill="#004cff"/><circle cx="379.09" cy="218.51" r="3.10" fill="#004cff"/><circle cx="379.09" cy="200.83" r="3.10" fill="#004cff"/><circle cx="379.09" cy="187.12" r="3.10" fill="#004cff"/><circle cx="379.09" cy="175.91" r="3.10" fill="#004cff"/><circle cx="379.09" cy="166.44" r="3.10" fill="#004cff"/><circle cx="379.09" cy="158.23" r="3.10" fill="#004cff"/><circle cx="379.09" cy="151.00" r="3.10" fill="#004cff"/><circle cx="379.49" cy="218.51" r="3.10" fill="#004cff"/><circle cx="379.49" cy="200.83" r="3.10" fill="#004cff"/><circle cx="379.49" cy="187.12" r="3.10" fill="#004cff"/><circle cx="379.49" cy="175.91" r="3.10" fill="#004cff"/><circle cx="379.49" cy="166.44" r="3.10" fill="#004cff"/><circle cx="379.49" cy="158.23" r="3.10" fill="#004cff"/><circle cx="379.49" cy="151.00" r="3.10" fill="#004cff"/><circle cx="379.90" cy="218.51" r="3.10" fill="#004cff"/><circle cx="379.90" cy="200.83" r="3.10" fill="#004cff"/><circle cx="379.90" cy="187.12" r="3.10" fill="#004cff"/><circle cx="379.90" cy="175.91" r="3.10" fill="#004cff"/><circle cx="379.90" cy="166.44" r="3.10" fill="#004cff"/><circle cx="379.90" cy="158.23" r="3.10" fill="#004cff"/><circle cx="379.90" cy="151.00" r="3.10" fill="#004cff"/><circle cx="380.30" cy="218.51" r="3.10" fill="#004cff"/><circle cx="380.30" cy="200.83" r="3.10" fill="#004cff"/><circle cx="380.30" cy="187.12" r="3.10" fill="#004cff"/><circle cx="380.30" cy="175.91" r="3.10" fill="#004cff"/><circle cx="380.30" cy="166.44" r="3.10" fill="#004cff"/><circle cx="380.30" cy="158.23" r="3.10" fill="#004cff"/><circle cx="380.30" cy="151.00" r="3.10" fill="#004cff"/><circle cx="380.71" cy="218.51" r="3.10" fill="#004cff"/><circle cx="380.71" cy="200.83" r="3.10" fill="#004cff"/><circle cx="380.71" cy="187.12" r="3.10" fill="#004cff"/><circle cx="380.71" cy="175.91" r="3.10" fill="#004cff"/><circle cx="380.71" cy="166.44" r="3.10" fill="#004cff"/><circle cx="380.71" cy="158.23" r="3.10" fill="#004cff"/><circle cx="380.71" cy="151.00" r="3.10" fill="#004cff"/><circle cx="381.11" cy="200.83" r="3.10" fill="#004cff"/><circle cx="381.11" cy="187.12" r="3.10" fill="#004cff"/><circle cx="381.11" cy="175.91" r="3.10" fill="#004cff"/><circle cx="381.11" cy="166.44" r="3.10" fill="#004cff"/><circle cx="381.11" cy="158.23" r="3.10" fill="#004cff"/><circle cx="381.11" cy="151.00" r="3.10" fill="#004cff"/><circle cx="381.52" cy="200.83" r="3.10" fill="#004cff"/><circle cx="381.52" cy="187.12" r="3.10" fill="#004cff"/><circle cx="381.52" cy="175.91" r="3.10" fill="#004cff"/><circle cx="381.52" cy="166.44" r="3.10" fill="#004cff"/><circle cx="381.52" cy="158.23" r="3.10" fill="#004cff"/><circle cx="381.52" cy="151.00" r="3.10" fill="#004cff"/><circle cx="381.92" cy="200.83" r="3.10" fill="#004cff"/><circle cx="381.92" cy="187.12" r="3.10" fill="#004cff"/><circle cx="381.92" cy="166.44" r="3.10" fill="#004cff"/><circle cx="374.84" cy="175.91" r="3.10" fill="#000080"/><circle cx="375.04" cy="175.91" r="3.10" fill="#000080"/><circle cx="375.04" cy="144.52" r="3.10" fill="#000080"/><circle cx="375.24" cy="175.91" r="3.10" fill="#000080"/><circle cx="375.24" cy="158.23" r="3.10" fill="#000080"/><circle cx="375.24" cy="144.52" r="3.10" fill="#000080"/><circle cx="375.24" cy="133.32" r="3.10" fill="#000080"/><circle cx="375.44" cy="175.91" r="3.10" fill="#000080"/><circle cx="375.44" cy="158.23" r="3.10" fill="#000080"/><circle cx="375.44" cy="144.52" r="3.10" fill="#000080"/><circle cx="375.44" cy="133.32" r="3.10" fill="#000080"/><circle cx="375.65" cy="175.91" r="3.10" fill="#000080"/><circle cx="375.65" cy="158.23" r="3.10" fill="#000080"/><circle cx="375.65" cy="144.52" r="3.10" fill="#000080"/><circle cx="375.65" cy="133.32" r="3.10" fill="#000080"/><circle cx="375.65" cy="123.84" r="3.10" fill="#000080"/><circle cx="375.85" cy="175.91" r="3.10" fill="#000080"/><circle cx="375.85" cy="158.23" r="3.10" fill="#000080"/><circle cx="375.85" cy="144.52" r="3.10" fill="#000080"/><circle cx="375.85" cy="133.32" r="3.10" fill="#000080"/><circle cx="375.85" cy="123.84" r="3.10" fill="#000080"/><circle cx="376.05" cy="175.91" r="3.10" fill="#000080"/><circle cx="376.05" cy="158.23" r="3.10" fill="#000080"/><circle cx="376.05" cy="144.52" r="3.10" fill="#000080"/><circle cx="376.05" cy="133.32" r="3.10" fill="#000080"/><circle cx="376.05" cy="123.84" r="3.10" fill="#000080"/><circle cx="376.05" cy="115.64" r="3.10" fill="#000080"/><circle cx="376.25" cy="175.91" r="3.10" fill="#000080"/><circle cx="376.25" cy="158.23" r="3.10" fill="#000080"/><circle cx="376.25" cy="144.52" r="3.10" fill="#000080"/><circle cx="376.25" cy="133.32" r="3.10" fill="#000080"/><circle cx="376.25" cy="123.84" r="3.10" fill="#000080"/><circle cx="376.25" cy="115.64" r="3.10" fill="#000080"/><circle cx="376.46" cy="175.91" r="3.10" fill="#000080"/><circle cx="376.46" cy="158.23" r="3.10" fill="#000080"/><circle cx="376.46" cy="144.52" r="3.10" fill="#000080"/><circle cx="376.46" cy="133.32" r="3.10" fill="#000080"/><circle cx="376.46" cy="123.84" r="3.10" fill="#000080"/><circle cx="376.46" cy="115.64" r="3.10" fill="#000080"/><circle cx="376.66" cy="175.91" r="3.10" fill="#000080"/><circle cx="376.66" cy="158.23" r="3.10" fill="#000080"/><circle cx="376.66" cy="144.52" r="3.10" fill="#000080"/><circle cx="376.66" cy="133.32" r="3.10" fill="#000080"/><circle cx="376.66" cy="123.84" r="3.10" fill="#000080"/><circle cx="376.66" cy="115.64" r="3.10" fill="#000080"/><circle cx="376.86" cy="175.91" r="3.10" fill="#000080"/><circle cx="376.86" cy="158.23" r="3.10" fill="#000080"/><circle cx="376.86" cy="144.52" r="3.10" fill="#000080"/><circle cx="376.86" cy="133.32" r="3.10" fill="#000080"/><circle cx="376.86" cy="123.84" r="3.10" fill="#000080"/><circle cx="376.86" cy="115.64" r="3.10" fill="#000080"/><circle cx="377.06" cy="175.91" r="3.10" fill="#000080"/><circle cx="377.06" cy="158.23" r="3.10" fill="#000080"/><circle cx="377.06" cy="144.52" r="3.10" fill="#000080"/><circle cx="377.06" cy="133.32" r="3.10" fill="#000080"/><circle cx="377.06" cy="123.84" r="3.10" fill="#000080"/><circle cx="377.06" cy="115.64" r="3.10" fill="#000080"/><circle cx="377.26" cy="175.91" r="3.10" fill="#000080"/><circle cx="377.26" cy="158.23" r="3.10" fill="#000080"/><circle cx="377.26" cy="144.52" r="3.10" fill="#000080"/><circle cx="377.26" cy="133.32" r="3.10" fill="#000080"/><circle cx="377.26" cy="123.84" r="3.10" fill="#000080"/><circle cx="377.26" cy="115.64" r="3.10" fill="#000080"/><circle cx="377.47" cy="175.91" r="3.10" fill="#000080"/><circle cx="377.47" cy="158.23" r="3.10" fill="#000080"/><circle cx="377.47" cy="144.52" r="3.10" fill="#000080"/><circle cx="377.47" cy="133.32" r="3.10" fill="#000080"/><circle cx="377.47" cy="123.84" r="3.10" fill="#000080"/><circle cx="377.47" cy="115.64" r="3.10" fill="#000080"/><circle cx="377.67" cy="175.91" r="3.10" fill="#000080"/><circle cx="377.67" cy="158.23" r="3.10" fill="#000080"/><circle cx="377.67" cy="144.52" r="3.10" fill="#000080"/><circle cx="377.67" cy="133.32" r="3.10" fill="#000080"/><circle cx="377.67" cy="123.84" r="3.10" fill="#000080"/><circle cx="377.67" cy="115.64" r="3.10" fill="#000080"/><circle cx="377.87" cy="175.91" r="3.10" fill="#000080"/><circle cx="377.87" cy="158.23" r="3.10" fill="#000080"/><circle cx="377.87" cy="144.52" r="3.10" fill="#000080"/><circle cx="377.87" cy="133.32" r="3.10" fill="#000080"/><circle cx="377.87" cy="123.84" r="3.10" fill="#000080"/><circle cx="377.87" cy="115.64" r="3.10" fill="#000080"/><circle cx="378.07" cy="175.91" r="3.10" fill="#000080"/><circle cx="378.07" cy="158.23" r="3.10" fill="#000080"/><circle cx="378.07" cy="144.52" r="3.10" fill="#000080"/><circle cx="378.07" cy="133.32" r="3.10" fill="#000080"/><circle cx="378.07" cy="123.84" r="3.10" fill="#000080"/><circle cx="378.07" cy="115.64" r="3.10" fill="#000080"/><circle cx="378.28" cy="175.91" r="3.10" fill="#000080"/><circle cx="378.28" cy="158.23" r="3.10" fill="#000080"/><circle cx="378.28" cy="144.52" r="3.10" fill="#000080"/><circle cx="378.28" cy="133.32" r="3.10" fill="#000080"/><circle cx="378.28" cy="123.84" r="3.10" fill="#000080"/><circle cx="378.28" cy="115.64" r="3.10" fill="#000080"/><circle cx="378.48" cy="175.91" r="3.10" fill="#000080"/><circle cx="378.48" cy="158.23" r="3.10" fill="#000080"/><circle cx="378.48" cy="144.52" r="3.10" fill="#000080"/><circle cx="378.48" cy="133.32" r="3.10" fill="#000080"/><circle cx="378.48" cy="123.84" r="3.10" fill="#000080"/><circle cx="378.48" cy="115.64" r="3.10" fill="#000080"/><circle cx="378.68" cy="175.91" r="3.10" fill="#000080"/><circle cx="378.68" cy="158.23" r="3.10" fill="#000080"/><circle cx="378.68" cy="144.52" r="3.10" fill="#000080"/><circle cx="378.68" cy="133.32" r="3.10" fill="#000080"/><circle cx="378.68" cy="123.84" r="3.10" fill="#000080"/><circle cx="378.68" cy="115.64" r="3.10" fill="#000080"/><circle cx="378.88" cy="175.91" r="3.10" fill="#000080"/><circle cx="378.88" cy="158.23" r="3.10" fill="#000080"/><circle cx="378.88" cy="144.52" r="3.10" fill="#000080"/><circle cx="378.88" cy="133.32" r="3.10" fill="#000080"/><circle cx="378.88" cy="123.84" r="3.10" fill="#000080"/><circle cx="378.88" cy="115.64" r="3.10" fill="#000080"/><circle cx="379.09" cy="175.91" r="3.10" fill="#000080"/><circle cx="379.09" cy="158.23" r="3.10" fill="#000080"/><circle cx="379.09" cy="144.52" r="3.10" fill="#000080"/><circle cx="379.09" cy="133.32" r="3.10" fill="#000080"/><circle cx="379.09" cy="123.84" r="3.10" fill="#000080"/><circle cx="379.09" cy="115.64" r="3.10" fill="#000080"/><circle cx="379.29" cy="175.91" r="3.10" fill="#000080"/><circle cx="379.29" cy="158.23" r="3.10" fill="#000080"/><circle cx="379.29" cy="144.52" r="3.10" fill="#000080"/><circle cx="379.29" cy="133.32" r="3.10" fill="#000080"/><circle cx="379.29" cy="123.84" r="3.10" fill="#000080"/><circle cx="379.29" cy="115.64" r="3.10" fill="#000080"/><circle cx="379.49" cy="175.91" r="3.10" fill="#000080"/><circle cx="379.49" cy="158.23" r="3.10" fill="#000080"/><circle cx="379.49" cy="144.52" r="3.10" fill="#000080"/><circle cx="379.49" cy="133.32" r="3.10" fill="#000080"/><circle cx="379.49" cy="123.84" r="3.10" fill="#000080"/><circle cx="379.49" cy="115.64" r="3.10" fill="#000080"/><circle cx="379.69" cy="175.91" r="3.10" fill="#000080"/><circle cx="379.69" cy="158.23" r="3.10" fill="#000080"/><circle cx="379.69" cy="144.52" r="3.10" fill="#000080"/><circle cx="379.69" cy="133.32" r="3.10" fill="#000080"/><circle cx="379.69" cy="123.84" r="3.10" fill="#000080"/><circle cx="379.69" cy="115.64" r="3.10" fill="#000080"/><circle cx="379.90" cy="175.91" r="3.10" fill="#000080"/><circle cx="379.90" cy="158.23" r="3.10" fill="#000080"/><circle cx="379.90" cy="144.52" r="3.10" fill="#000080"/><circle cx="379.90" cy="133.32" r="3.10" fill="#000080"/><circle cx="379.90" cy="123.84" r="3.10" fill="#000080"/><circle cx="379.90" cy="115.64" r="3.10" fill="#000080"/><circle cx="380.10" cy="175.91" r="3.10" fill="#000080"/><circle cx="380.10" cy="158.23" r="3.10" fill="#000080"/><circle cx="380.10" cy="144.52" r="3.10" fill="#000080"/><circle cx="380.10" cy="133.32" r="3.10" fill="#000080"/><circle cx="380.10" cy="123.84" r="3.10" fill="#000080"/><circle cx="380.10" cy="115.64" r="3.10" fill="#000080"/><circle cx="380.30" cy="175.91" r="3.10" fill="#000080"/><circle cx="380.30" cy="158.23" r="3.10" fill="#000080"/><circle cx="380.30" cy="144.52" r="3.10" fill="#000080"/><circle cx="380.30" cy="133.32" r="3.10" fill="#000080"/><circle cx="380.30" cy="123.84" r="3.10" fill="#000080"/><circle cx="380.30" cy="115.64" r="3.10" fill="#000080"/><circle cx="380.50" cy="175.91" r="3.10" fill="#000080"/><circle cx="380.50" cy="158.23" r="3.10" fill="#000080"/><circle cx="380.50" cy="144.52" r="3.10" fill="#000080"/><circle cx="380.50" cy="133.32" r="3.10" fill="#000080"/><circle cx="380.50" cy="123.84" r="3.10" fill="#000080"/><circle cx="380.50" cy="115.64" r="3.10" fill="#000080"/><circle cx="380.71" cy="175.91" r="3.10" fill="#000080"/><circle cx="380.71" cy="158.23" r="3.10" fill="#000080"/><circle cx="380.71" cy="144.52" r="3.10" fill="#000080"/><circle cx="380.71" cy="133.32" r="3.10" fill="#000080"/><circle cx="380.71" cy="123.84" r="3.10" fill="#000080"/><circle cx="380.71" cy="115.64" r="3.10" fill="#000080"/><circle cx="380.91" cy="175.91" r="3.10" fill="#000080"/><circle cx="380.91" cy="158.23" r="3.10" fill="#000080"/><circle cx="380.91" cy="144.52" r="3.10" fill="#000080"/><circle cx="380.91" cy="133.32" r="3.10" fill="#000080"/><circle cx="380.91" cy="123.84" r="3.10" fill="#000080"/><circle cx="380.91" cy="115.64" r="3.10" fill="#000080"/><circle cx="381.11" cy="175.91" r="3.10" fill="#000080"/><circle cx="381.11" cy="158.23" r="3.10" fill="#000080"/><circle cx="381.11" cy="144.52" r="3.10" fill="#000080"/><circle cx="381.11" cy="133.32" r="3.10" fill="#000080"/><circle cx="381.11" cy="123.84" r="3.10" fill="#000080"/><circle cx="381.11" cy="115.64" r="3.10" fill="#000080"/><circle cx="381.31" cy="175.91" r="3.10" fill="#000080"/><circle cx="381.31" cy="158.23" r="3.10" fill="#000080"/><circle cx="381.31" cy="144.52" r="3.10" fill="#000080"/><circle cx="381.31" cy="133.32" r="3.10" fill="#000080"/><circle cx="381.31" cy="123.84" r="3.10" fill="#000080"/><circle cx="381.31" cy="115.64" r="3.10" fill="#000080"/><circle cx="381.52" cy="175.91" r="3.10" fill="#000080"/><circle cx="381.52" cy="158.23" r="3.10" fill="#000080"/><circle cx="381.52" cy="144.52" r="3.10" fill="#000080"/><circle cx="381.52" cy="133.32" r="3.10" fill="#000080"/><circle cx="381.52" cy="123.84" r="3.10" fill="#000080"/><circle cx="381.52" cy="115.64" r="3.10" fill="#000080"/><circle cx="381.72" cy="175.91" r="3.10" fill="#000080"/><circle cx="381.72" cy="158.23" r="3.10" fill="#000080"/><circle cx="381.72" cy="144.52" r="3.10" fill="#000080"/><circle cx="381.72" cy="133.32" r="3.10" fill="#000080"/><circle cx="381.72" cy="123.84" r="3.10" fill="#000080"/><circle cx="381.72" cy="115.64" r="3.10" fill="#000080"/><circle cx="381.92" cy="175.91" r="3.10" fill="#000080"/><circle cx="381.92" cy="158.23" r="3.10" fill="#000080"/><circle cx="381.92" cy="144.52" r="3.10" fill="#000080"/><circle cx="381.92" cy="133.32" r="3.10" fill="#000080"/><circle cx="381.92" cy="123.84" r="3.10" fill="#000080"/><circle cx="381.92" cy="115.64" r="3.10" fill="#000080"/><circle cx="382.12" cy="175.91" r="3.10" fill="#000080"/><circle cx="382.12" cy="158.23" r="3.10" fill="#000080"/><circle cx="382.12" cy="144.52" r="3.10" fill="#000080"/><circle cx="382.12" cy="133.32" r="3.10" fill="#000080"/><circle cx="382.12" cy="123.84" r="3.10" fill="#000080"/><circle cx="382.12" cy="115.64" r="3.10" fill="#000080"/><circle cx="382.33" cy="175.91" r="3.10" fill="#000080"/><circle cx="382.33" cy="158.23" r="3.10" fill="#000080"/><circle cx="382.33" cy="144.52" r="3.10" fill="#000080"/><circle cx="382.33" cy="133.32" r="3.10" fill="#000080"/><circle cx="382.33" cy="123.84" r="3.10" fill="#000080"/><circle cx="382.33" cy="115.64" r="3.10" fill="#000080"/><circle cx="382.53" cy="175.91" r="3.10" fill="#000080"/><circle cx="382.53" cy="158.23" r="3.10" fill="#000080"/><circle cx="382.53" cy="144.52" r="3.10" fill="#000080"/><circle cx="382.53" cy="133.32" r="3.10" fill="#000080"/><circle cx="382.53" cy="123.84" r="3.10" fill="#000080"/><circle cx="382.53" cy="115.64" r="3.10" fill="#000080"/><circle cx="382.73" cy="175.91" r="3.10" fill="#000080"/><circle cx="382.73" cy="158.23" r="3.10" fill="#000080"/><circle cx="382.73" cy="144.52" r="3.10" fill="#000080"/><circle cx="382.73" cy="133.32" r="3.10" fill="#000080"/><circle cx="382.73" cy="123.84" r="3.10" fill="#000080"/><circle cx="382.93" cy="158.23" r="3.10" fill="#000080"/><circle cx="382.93" cy="144.52" r="3.10" fill="#000080"/><circle cx="382.93" cy="133.32" r="3.10" fill="#000080"/><circle cx="382.93" cy="123.84" r="3.10" fill="#000080"/><circle cx="375.44" cy="123.84" r="3.10" fill="#000080"/></g>
<g stroke="#000" stroke-width="0.7" stroke-dasharray="1.39 4.17" fill="none"><line x1="137.5" y1="357.5" x2="137.5" y2="74.5"/><line x1="189.5" y1="357.5" x2="189.5" y2="74.5"/><line x1="240.5" y1="357.5" x2="240.5" y2="74.5"/><line x1="292.5" y1="357.5" x2="292.5" y2="74.5"/><line x1="344.5" y1="357.5" x2="344.5" y2="74.5"/><line x1="85.5" y1="216.5" x2="396.5" y2="216.5"/></g>
<path d="M85.5 357.5v-5.56M85.5 74.5v5.56M137.5 357.5v-5.56M137.5 74.5v5.56M189.5 357.5v-5.56M189.5 74.5v5.56M240.5 357.5v-5.56M240.5 74.5v5.56M292.5 357.5v-5.56M292.5 74.5v5.56M344.5 357.5v-5.56M344.5 74.5v5.56M396.5 357.5v-5.56M396.5 74.5v5.56M85.5 357.5h5.56M396.5 357.5h-5.56M85.5 315.5h2.78M396.5 315.5h-2.78M85.5 290.5h2.78M396.5 290.5h-2.78M85.5 272.5h2.78M396.5 272.5h-2.78M85.5 258.5h2.78M396.5 258.5h-2.78M85.5 247.5h2.78M396.5 247.5h-2.78M85.5 238.5h2.78M396.5 238.5h-2.78M85.5 230.5h2.78M396.5 230.5h-2.78M85.5 222.5h2.78M396.5 222.5h-2.78M85.5 216.5h5.56M396.5 216.5h-5.56M85.5 173.5h2.78M396.5 173.5h-2.78M85.5 148.5h2.78M396.5 148.5h-2.78M85.5 131.5h2.78M396.5 131.5h-2.78M85.5 117.5h2.78M396.5 117.5h-2.78M85.5 106.5h2.78M396.5 106.5h-2.78M85.5 96.5h2.78M396.5 96.5h-2.78M85.5 88.5h2.78M396.5 88.5h-2.78M85.5 81.5h2.78M396.5 81.5h-2.78" stroke="#000" stroke-width="1" fill="none"/>
<rect x="85.5" y="74.5" width="311.0" height="283.0" fill="none" stroke="#000" stroke-width="1.39"/>
<g font-family="'DejaVu Sans','Liberation Sans',sans-serif" fill="#000"><text transform="translate(85.00 378.60) scale(1 0.930)" text-anchor="middle" font-size="22.2"><tspan dy="-0.8">−</tspan><tspan dx="-1" dy="0.8">2</tspan></text><text transform="translate(137.33 378.60) scale(1 0.930)" text-anchor="middle" font-size="22.2">0</text><text transform="translate(189.17 378.60) scale(1 0.930)" text-anchor="middle" font-size="22.2">2</text><text transform="translate(241.00 378.60) scale(1 0.930)" text-anchor="middle" font-size="22.2">4</text><text transform="translate(292.83 378.60) scale(1 0.930)" text-anchor="middle" font-size="22.2">6</text><text transform="translate(344.67 378.60) scale(1 0.930)" text-anchor="middle" font-size="22.2">8</text><text transform="translate(395.60 378.60) scale(1 0.930)" text-anchor="middle" font-size="22.2">10</text><text transform="translate(42.00 83.80) scale(1 0.930)" font-size="22.2">10</text><text transform="translate(70.25 71.34) scale(1 1.100)" font-size="15.2">3</text><text transform="translate(42.00 225.80) scale(1 0.930)" font-size="22.2">10</text><text transform="translate(70.25 213.34) scale(1 1.100)" font-size="15.2">2</text><text transform="translate(42.00 366.80) scale(1 0.930)" font-size="22.2">10</text><text transform="translate(70.25 354.34) scale(1 1.100)" font-size="15.2">1</text></g>
<g font-family="'DejaVu Sans','Liberation Sans',sans-serif" fill="#000"><text transform="translate(241.00 405.80) scale(1 0.930)" text-anchor="middle" font-size="22.2">time (s)</text><text transform="translate(29.00 216.70) rotate(-90) scale(1 0.930)" text-anchor="middle" font-size="22.2">frequency (Hz)</text></g>
<rect x="415.5" y="74.5" width="14.0" height="283.0" fill="url(#jetg)"/>
<path d="M429.5 301.5h-5.56M429.5 244.5h-5.56M429.5 188.5h-5.56M429.5 131.5h-5.56" stroke="#000" stroke-width="1" fill="none"/>
<rect x="415.5" y="74.5" width="14.0" height="283.0" fill="none" stroke="#000" stroke-width="1.39"/>
<g font-family="'DejaVu Sans','Liberation Sans',sans-serif" fill="#000"><text transform="translate(433.90 363.40) scale(1 1.070)" font-size="16.67">3</text><text transform="translate(434.90 306.30) scale(1 1.070)" font-size="16.67">4</text><text transform="translate(433.90 250.30) scale(1 1.070)" font-size="16.67">5</text><text transform="translate(433.90 193.30) scale(1 1.070)" font-size="16.67">6</text><text transform="translate(433.90 136.40) scale(1 1.070)" font-size="16.67">7</text><text transform="translate(433.90 79.40) scale(1 1.070)" font-size="16.67">8</text><text transform="translate(464.00 218.20) rotate(-90) scale(1 1.070)" text-anchor="middle" font-size="16.67">log2(scale)</text></g>
<g clip-path="url(#clip1)"><circle cx="138.74" cy="634.31" r="3.10" fill="#000080"/><circle cx="145.22" cy="634.31" r="3.10" fill="#000080"/><circle cx="145.22" cy="631.31" r="3.10" fill="#000080"/><circle cx="151.70" cy="634.31" r="3.10" fill="#000080"/><circle cx="151.70" cy="631.31" r="3.10" fill="#0080ff"/><circle cx="158.17" cy="634.31" r="3.10" fill="#000080"/><circle cx="158.17" cy="631.31" r="3.10" fill="#0080ff"/><circle cx="164.65" cy="634.31" r="3.10" fill="#000080"/><circle cx="164.65" cy="631.31" r="3.10" fill="#0080ff"/><circle cx="171.13" cy="634.31" r="3.10" fill="#000080"/><circle cx="171.13" cy="631.31" r="3.10" fill="#0080ff"/><circle cx="171.13" cy="628.45" r="3.10" fill="#000080"/><circle cx="177.61" cy="634.31" r="3.10" fill="#000080"/><circle cx="177.61" cy="631.31" r="3.10" fill="#0080ff"/><circle cx="177.61" cy="628.45" r="3.10" fill="#0080ff"/><circle cx="184.09" cy="634.31" r="3.10" fill="#000080"/><circle cx="184.09" cy="631.31" r="3.10" fill="#0080ff"/><circle cx="184.09" cy="628.45" r="3.10" fill="#0080ff"/><circle cx="190.57" cy="634.31" r="3.10" fill="#000080"/><circle cx="190.57" cy="631.31" r="3.10" fill="#0080ff"/><circle cx="190.57" cy="628.45" r="3.10" fill="#0080ff"/><circle cx="197.05" cy="634.31" r="3.10" fill="#000080"/><circle cx="197.05" cy="631.31" r="3.10" fill="#0080ff"/><circle cx="197.05" cy="628.45" r="3.10" fill="#0080ff"/><circle cx="197.05" cy="625.72" r="3.10" fill="#000080"/><circle cx="203.53" cy="634.31" r="3.10" fill="#000080"/><circle cx="203.53" cy="631.31" r="3.10" fill="#0080ff"/><circle cx="203.53" cy="628.45" r="3.10" fill="#0080ff"/><circle cx="203.53" cy="625.72" r="3.10" fill="#0080ff"/><circle cx="210.01" cy="634.31" r="3.10" fill="#000080"/><circle cx="210.01" cy="631.31" r="3.10" fill="#0080ff"/><circle cx="210.01" cy="628.45" r="3.10" fill="#0080ff"/><circle cx="210.01" cy="625.72" r="3.10" fill="#0080ff"/><circle cx="216.49" cy="634.31" r="3.10" fill="#000080"/><circle cx="216.49" cy="631.31" r="3.10" fill="#0080ff"/><circle cx="216.49" cy="628.45" r="3.10" fill="#0080ff"/><circle cx="216.49" cy="625.72" r="3.10" fill="#0080ff"/><circle cx="216.49" cy="623.10" r="3.10" fill="#000080"/><circle cx="222.97" cy="634.31" r="3.10" fill="#000080"/><circle cx="222.97" cy="631.31" r="3.10" fill="#0080ff"/><circle cx="222.97" cy="628.45" r="3.10" fill="#0080ff"/><circle cx="222.97" cy="625.72" r="3.10" fill="#0080ff"/><circle cx="222.97" cy="623.10" r="3.10" fill="#0080ff"/><circle cx="229.45" cy="634.31" r="3.10" fill="#000080"/><circle cx="229.45" cy="631.31" r="3.10" fill="#0080ff"/><circle cx="229.45" cy="628.45" r="3.10" fill="#0080ff"/><circle cx="229.45" cy="625.72" r="3.10" fill="#0080ff"/><circle cx="229.45" cy="623.10" r="3.10" fill="#0080ff"/><circle cx="235.92" cy="634.31" r="3.10" fill="#000080"/><circle cx="235.92" cy="631.31" r="3.10" fill="#0080ff"/><circle cx="235.92" cy="628.45" r="3.10" fill="#0080ff"/><circle cx="235.92" cy="625.72" r="3.10" fill="#0080ff"/><circle cx="235.92" cy="623.10" r="3.10" fill="#0080ff"/><circle cx="235.92" cy="620.60" r="3.10" fill="#0000ff"/><circle cx="242.40" cy="634.31" r="3.10" fill="#000080"/><circle cx="242.40" cy="631.31" r="3.10" fill="#0080ff"/><circle cx="242.40" cy="628.45" r="3.10" fill="#0080ff"/><circle cx="242.40" cy="625.72" r="3.10" fill="#0080ff"/><circle cx="242.40" cy="623.10" r="3.10" fill="#0080ff"/><circle cx="242.40" cy="620.60" r="3.10" fill="#0080ff"/><circle cx="248.88" cy="634.31" r="3.10" fill="#000080"/><circle cx="248.88" cy="631.31" r="3.10" fill="#0080ff"/><circle cx="248.88" cy="628.45" r="3.10" fill="#0080ff"/><circle cx="248.88" cy="625.72" r="3.10" fill="#0080ff"/><circle cx="248.88" cy="623.10" r="3.10" fill="#0080ff"/><circle cx="248.88" cy="620.60" r="3.10" fill="#0080ff"/><circle cx="248.88" cy="618.19" r="3.10" fill="#000080"/><circle cx="255.36" cy="634.31" r="3.10" fill="#000080"/><circle cx="255.36" cy="631.31" r="3.10" fill="#0080ff"/><circle cx="255.36" cy="628.45" r="3.10" fill="#0080ff"/><circle cx="255.36" cy="625.72" r="3.10" fill="#0080ff"/><circle cx="255.36" cy="623.10" r="3.10" fill="#0080ff"/><circle cx="255.36" cy="620.60" r="3.10" fill="#0080ff"/><circle cx="255.36" cy="618.19" r="3.10" fill="#0080ff"/><circle cx="261.84" cy="634.31" r="3.10" fill="#000080"/><circle cx="261.84" cy="631.31" r="3.10" fill="#0080ff"/><circle cx="261.84" cy="628.45" r="3.10" fill="#0080ff"/><circle cx="261.84" cy="625.72" r="3.10" fill="#0080ff"/><circle cx="261.84" cy="623.10" r="3.10" fill="#0080ff"/><circle cx="261.84" cy="620.60" r="3.10" fill="#0080ff"/><circle cx="261.84" cy="618.19" r="3.10" fill="#0080ff"/><circle cx="261.84" cy="615.87" r="3.10" fill="#000080"/><circle cx="268.32" cy="634.31" r="3.10" fill="#000080"/><circle cx="268.32" cy="631.31" r="3.10" fill="#0080ff"/><circle cx="268.32" cy="628.45" r="3.10" fill="#0080ff"/><circle cx="268.32" cy="625.72" r="3.10" fill="#0080ff"/><circle cx="268.32" cy="623.10" r="3.10" fill="#0080ff"/><circle cx="268.32" cy="620.60" r="3.10" fill="#0080ff"/><circle cx="268.32" cy="618.19" r="3.10" fill="#0080ff"/><circle cx="268.32" cy="615.87" r="3.10" fill="#0080ff"/><circle cx="268.32" cy="613.63" r="3.10" fill="#000080"/><circle cx="274.80" cy="634.31" r="3.10" fill="#000080"/><circle cx="274.80" cy="631.31" r="3.10" fill="#0080ff"/><circle cx="274.80" cy="628.45" r="3.10" fill="#0080ff"/><circle cx="274.80" cy="625.72" r="3.10" fill="#0080ff"/><circle cx="274.80" cy="623.10" r="3.10" fill="#0080ff"/><circle cx="274.80" cy="620.60" r="3.10" fill="#0080ff"/><circle cx="274.80" cy="618.19" r="3.10" fill="#0080ff"/><circle cx="274.80" cy="615.87" r="3.10" fill="#0080ff"/><circle cx="274.80" cy="613.63" r="3.10" fill="#0080ff"/><circle cx="281.28" cy="634.31" r="3.10" fill="#000080"/><circle cx="281.28" cy="631.31" r="3.10" fill="#0080ff"/><circle cx="281.28" cy="628.45" r="3.10" fill="#0080ff"/><circle cx="281.28" cy="625.72" r="3.10" fill="#0080ff"/><circle cx="281.28" cy="623.10" r="3.10" fill="#0080ff"/><circle cx="281.28" cy="620.60" r="3.10" fill="#0080ff"/><circle cx="281.28" cy="618.19" r="3.10" fill="#0080ff"/><circle cx="281.28" cy="615.87" r="3.10" fill="#0080ff"/><circle cx="281.28" cy="613.63" r="3.10" fill="#0080ff"/><circle cx="281.28" cy="611.47" r="3.10" fill="#000080"/><circle cx="287.76" cy="634.31" r="3.10" fill="#000080"/><circle cx="287.76" cy="631.31" r="3.10" fill="#0080ff"/><circle cx="287.76" cy="628.45" r="3.10" fill="#0080ff"/><circle cx="287.76" cy="625.72" r="3.10" fill="#0080ff"/><circle cx="287.76" cy="623.10" r="3.10" fill="#0080ff"/><circle cx="287.76" cy="620.60" r="3.10" fill="#0080ff"/><circle cx="287.76" cy="618.19" r="3.10" fill="#0080ff"/><circle cx="287.76" cy="615.87" r="3.10" fill="#0080ff"/><circle cx="287.76" cy="613.63" r="3.10" fill="#0080ff"/><circle cx="287.76" cy="611.47" r="3.10" fill="#0080ff"/><circle cx="287.76" cy="609.39" r="3.10" fill="#000080"/><circle cx="294.24" cy="634.31" r="3.10" fill="#000080"/><circle cx="294.24" cy="631.31" r="3.10" fill="#0080ff"/><circle cx="294.24" cy="628.45" r="3.10" fill="#0080ff"/><circle cx="294.24" cy="625.72" r="3.10" fill="#0080ff"/><circle cx="294.24" cy="623.10" r="3.10" fill="#0080ff"/><circle cx="294.24" cy="620.60" r="3.10" fill="#0080ff"/><circle cx="294.24" cy="618.19" r="3.10" fill="#0080ff"/><circle cx="294.24" cy="615.87" r="3.10" fill="#0080ff"/><circle cx="294.24" cy="613.63" r="3.10" fill="#0080ff"/><circle cx="294.24" cy="611.47" r="3.10" fill="#0080ff"/><circle cx="294.24" cy="609.39" r="3.10" fill="#0080ff"/><circle cx="294.24" cy="607.38" r="3.10" fill="#000080"/><circle cx="300.72" cy="634.31" r="3.10" fill="#000080"/><circle cx="300.72" cy="631.31" r="3.10" fill="#0080ff"/><circle cx="300.72" cy="628.45" r="3.10" fill="#0080ff"/><circle cx="300.72" cy="625.72" r="3.10" fill="#0080ff"/><circle cx="300.72" cy="623.10" r="3.10" fill="#0080ff"/><circle cx="300.72" cy="620.60" r="3.10" fill="#0080ff"/><circle cx="300.72" cy="618.19" r="3.10" fill="#0080ff"/><circle cx="300.72" cy="615.87" r="3.10" fill="#0080ff"/><circle cx="300.72" cy="613.63" r="3.10" fill="#0080ff"/><circle cx="300.72" cy="611.47" r="3.10" fill="#0080ff"/><circle cx="300.72" cy="609.39" r="3.10" fill="#0080ff"/><circle cx="300.72" cy="607.38" r="3.10" fill="#0080ff"/><circle cx="300.72" cy="605.43" r="3.10" fill="#000080"/><circle cx="307.20" cy="634.31" r="3.10" fill="#000080"/><circle cx="307.20" cy="631.31" r="3.10" fill="#0080ff"/><circle cx="307.20" cy="628.45" r="3.10" fill="#0080ff"/><circle cx="307.20" cy="625.72" r="3.10" fill="#0080ff"/><circle cx="307.20" cy="623.10" r="3.10" fill="#0080ff"/><circle cx="307.20" cy="620.60" r="3.10" fill="#0080ff"/><circle cx="307.20" cy="618.19" r="3.10" fill="#0080ff"/><circle cx="307.20" cy="615.87" r="3.10" fill="#0080ff"/><circle cx="307.20" cy="613.63" r="3.10" fill="#0080ff"/><circle cx="307.20" cy="611.47" r="3.10" fill="#0080ff"/><circle cx="307.20" cy="609.39" r="3.10" fill="#0080ff"/><circle cx="307.20" cy="607.38" r="3.10" fill="#0080ff"/><circle cx="307.20" cy="605.43" r="3.10" fill="#0080ff"/><circle cx="307.20" cy="603.53" r="3.10" fill="#000080"/><circle cx="313.67" cy="634.31" r="3.10" fill="#000080"/><circle cx="313.67" cy="631.31" r="3.10" fill="#0080ff"/><circle cx="313.67" cy="628.45" r="3.10" fill="#0080ff"/><circle cx="313.67" cy="625.72" r="3.10" fill="#0080ff"/><circle cx="313.67" cy="623.10" r="3.10" fill="#0080ff"/><circle cx="313.67" cy="620.60" r="3.10" fill="#0080ff"/><circle cx="313.67" cy="618.19" r="3.10" fill="#0080ff"/><circle cx="313.67" cy="615.87" r="3.10" fill="#0080ff"/><circle cx="313.67" cy="613.63" r="3.10" fill="#0080ff"/><circle cx="313.67" cy="611.47" r="3.10" fill="#0080ff"/><circle cx="313.67" cy="609.39" r="3.10" fill="#0080ff"/><circle cx="313.67" cy="607.38" r="3.10" fill="#0080ff"/><circle cx="313.67" cy="605.43" r="3.10" fill="#0080ff"/><circle cx="313.67" cy="603.53" r="3.10" fill="#0080ff"/><circle cx="313.67" cy="601.70" r="3.10" fill="#000080"/><circle cx="320.15" cy="634.31" r="3.10" fill="#000080"/><circle cx="320.15" cy="631.31" r="3.10" fill="#0080ff"/><circle cx="320.15" cy="628.45" r="3.10" fill="#0080ff"/><circle cx="320.15" cy="625.72" r="3.10" fill="#0080ff"/><circle cx="320.15" cy="623.10" r="3.10" fill="#0080ff"/><circle cx="320.15" cy="620.60" r="3.10" fill="#0080ff"/><circle cx="320.15" cy="618.19" r="3.10" fill="#0080ff"/><circle cx="320.15" cy="615.87" r="3.10" fill="#0080ff"/><circle cx="320.15" cy="613.63" r="3.10" fill="#0080ff"/><circle cx="320.15" cy="611.47" r="3.10" fill="#0080ff"/><circle cx="320.15" cy="609.39" r="3.10" fill="#0080ff"/><circle cx="320.15" cy="607.38" r="3.10" fill="#0080ff"/><circle cx="320.15" cy="605.43" r="3.10" fill="#0080ff"/><circle cx="320.15" cy="603.53" r="3.10" fill="#0080ff"/><circle cx="320.15" cy="601.70" r="3.10" fill="#0080ff"/><circle cx="326.63" cy="634.31" r="3.10" fill="#000080"/><circle cx="326.63" cy="631.31" r="3.10" fill="#0080ff"/><circle cx="326.63" cy="628.45" r="3.10" fill="#0080ff"/><circle cx="326.63" cy="625.72" r="3.10" fill="#0080ff"/><circle cx="326.63" cy="623.10" r="3.10" fill="#0080ff"/><circle cx="326.63" cy="620.60" r="3.10" fill="#0080ff"/><circle cx="326.63" cy="618.19" r="3.10" fill="#0080ff"/><circle cx="326.63" cy="615.87" r="3.10" fill="#0080ff"/><circle cx="326.63" cy="613.63" r="3.10" fill="#0080ff"/><circle cx="326.63" cy="611.47" r="3.10" fill="#0080ff"/><circle cx="326.63" cy="609.39" r="3.10" fill="#0080ff"/><circle cx="326.63" cy="607.38" r="3.10" fill="#0080ff"/><circle cx="326.63" cy="605.43" r="3.10" fill="#0080ff"/><circle cx="326.63" cy="603.53" r="3.10" fill="#0080ff"/><circle cx="326.63" cy="601.70" r="3.10" fill="#0080ff"/><circle cx="326.63" cy="599.92" r="3.10" fill="#000080"/><circle cx="333.11" cy="634.31" r="3.10" fill="#000080"/><circle cx="333.11" cy="631.31" r="3.10" fill="#0080ff"/><circle cx="333.11" cy="628.45" r="3.10" fill="#0080ff"/><circle cx="333.11" cy="625.72" r="3.10" fill="#0080ff"/><circle cx="333.11" cy="623.10" r="3.10" fill="#0080ff"/><circle cx="333.11" cy="620.60" r="3.10" fill="#0080ff"/><circle cx="333.11" cy="618.19" r="3.10" fill="#0080ff"/><circle cx="333.11" cy="615.87" r="3.10" fill="#0080ff"/><circle cx="333.11" cy="613.63" r="3.10" fill="#0080ff"/><circle cx="333.11" cy="611.47" r="3.10" fill="#0080ff"/><circle cx="333.11" cy="609.39" r="3.10" fill="#0080ff"/><circle cx="333.11" cy="607.38" r="3.10" fill="#0080ff"/><circle cx="333.11" cy="605.43" r="3.10" fill="#0080ff"/><circle cx="333.11" cy="603.53" r="3.10" fill="#0080ff"/><circle cx="333.11" cy="601.70" r="3.10" fill="#0080ff"/><circle cx="333.11" cy="599.92" r="3.10" fill="#0080ff"/><circle cx="333.11" cy="598.19" r="3.10" fill="#000080"/><circle cx="314.27" cy="605.43" r="3.10" fill="#0000ff"/><circle cx="314.27" cy="601.70" r="3.10" fill="#000080"/><circle cx="317.51" cy="609.39" r="3.10" fill="#000080"/><circle cx="317.51" cy="605.43" r="3.10" fill="#7dff7a"/><circle cx="317.51" cy="601.70" r="3.10" fill="#0080ff"/><circle cx="320.75" cy="613.63" r="3.10" fill="#000080"/><circle cx="320.75" cy="609.39" r="3.10" fill="#0080ff"/><circle cx="320.75" cy="605.43" r="3.10" fill="#800000"/><circle cx="320.75" cy="601.70" r="3.10" fill="#7dff7a"/><circle cx="323.99" cy="613.63" r="3.10" fill="#16ffe1"/><circle cx="323.99" cy="609.39" r="3.10" fill="#7dff7a"/><circle cx="323.99" cy="605.43" r="3.10" fill="#7dff7a"/><circle cx="323.99" cy="601.70" r="3.10" fill="#0080ff"/><circle cx="323.99" cy="598.19" r="3.10" fill="#000080"/><circle cx="327.23" cy="618.19" r="3.10" fill="#0000ff"/><circle cx="327.23" cy="613.63" r="3.10" fill="#ff1e00"/><circle cx="327.23" cy="609.39" r="3.10" fill="#ff1e00"/><circle cx="327.23" cy="605.43" r="3.10" fill="#0080ff"/><circle cx="327.23" cy="601.70" r="3.10" fill="#0080ff"/><circle cx="327.23" cy="598.19" r="3.10" fill="#0080ff"/><circle cx="330.47" cy="623.10" r="3.10" fill="#0000ff"/><circle cx="330.47" cy="618.19" r="3.10" fill="#7dff7a"/><circle cx="330.47" cy="613.63" r="3.10" fill="#e4ff13"/><circle cx="330.47" cy="609.39" r="3.10" fill="#0080ff"/><circle cx="330.47" cy="605.43" r="3.10" fill="#0080ff"/><circle cx="330.47" cy="601.70" r="3.10" fill="#0080ff"/><circle cx="330.47" cy="598.19" r="3.10" fill="#0080ff"/><circle cx="330.47" cy="594.86" r="3.10" fill="#000080"/><circle cx="333.71" cy="628.45" r="3.10" fill="#0000ff"/><circle cx="333.71" cy="623.10" r="3.10" fill="#ff9400"/><circle cx="333.71" cy="618.19" r="3.10" fill="#800000"/><circle cx="333.71" cy="613.63" r="3.10" fill="#7dff7a"/><circle cx="333.71" cy="609.39" r="3.10" fill="#0080ff"/><circle cx="333.71" cy="605.43" r="3.10" fill="#0080ff"/><circle cx="333.71" cy="601.70" r="3.10" fill="#0080ff"/><circle cx="333.71" cy="598.19" r="3.10" fill="#0080ff"/><circle cx="333.71" cy="594.86" r="3.10" fill="#0080ff"/><circle cx="336.95" cy="634.31" r="3.10" fill="#0000ff"/><circle cx="336.95" cy="628.45" r="3.10" fill="#7dff7a"/><circle cx="336.95" cy="623.10" r="3.10" fill="#e4ff13"/><circle cx="336.95" cy="618.19" r="3.10" fill="#7dff7a"/><circle cx="336.95" cy="613.63" r="3.10" fill="#0080ff"/><circle cx="336.95" cy="609.39" r="3.10" fill="#0080ff"/><circle cx="336.95" cy="605.43" r="3.10" fill="#0080ff"/><circle cx="336.95" cy="601.70" r="3.10" fill="#0080ff"/><circle cx="336.95" cy="598.19" r="3.10" fill="#0080ff"/><circle cx="336.95" cy="594.86" r="3.10" fill="#0080ff"/><circle cx="336.95" cy="591.71" r="3.10" fill="#000080"/><circle cx="340.19" cy="634.31" r="3.10" fill="#0000ff"/><circle cx="340.19" cy="628.45" r="3.10" fill="#800000"/><circle cx="340.19" cy="623.10" r="3.10" fill="#ff9400"/><circle cx="340.19" cy="618.19" r="3.10" fill="#0080ff"/><circle cx="340.19" cy="613.63" r="3.10" fill="#0080ff"/><circle cx="340.19" cy="609.39" r="3.10" fill="#0080ff"/><circle cx="340.19" cy="605.43" r="3.10" fill="#0080ff"/><circle cx="340.19" cy="601.70" r="3.10" fill="#0080ff"/><circle cx="340.19" cy="598.19" r="3.10" fill="#0080ff"/><circle cx="340.19" cy="594.86" r="3.10" fill="#0080ff"/><circle cx="340.19" cy="591.71" r="3.10" fill="#0080ff"/><circle cx="340.19" cy="588.71" r="3.10" fill="#000080"/><circle cx="343.43" cy="634.31" r="3.10" fill="#0000ff"/><circle cx="343.43" cy="628.45" r="3.10" fill="#7dff7a"/><circle cx="343.43" cy="623.10" r="3.10" fill="#0080ff"/><circle cx="343.43" cy="618.19" r="3.10" fill="#0080ff"/><circle cx="343.43" cy="613.63" r="3.10" fill="#0080ff"/><circle cx="343.43" cy="609.39" r="3.10" fill="#0080ff"/><circle cx="343.43" cy="605.43" r="3.10" fill="#0080ff"/><circle cx="343.43" cy="601.70" r="3.10" fill="#0080ff"/><circle cx="343.43" cy="598.19" r="3.10" fill="#0080ff"/><circle cx="343.43" cy="594.86" r="3.10" fill="#0080ff"/><circle cx="343.43" cy="591.71" r="3.10" fill="#0080ff"/><circle cx="343.43" cy="588.71" r="3.10" fill="#0000ff"/><circle cx="346.67" cy="634.31" r="3.10" fill="#000080"/><circle cx="346.67" cy="628.45" r="3.10" fill="#0080ff"/><circle cx="346.67" cy="623.10" r="3.10" fill="#0080ff"/><circle cx="346.67" cy="618.19" r="3.10" fill="#0080ff"/><circle cx="346.67" cy="613.63" r="3.10" fill="#0080ff"/><circle cx="346.67" cy="609.39" r="3.10" fill="#0080ff"/><circle cx="346.67" cy="605.43" r="3.10" fill="#0080ff"/><circle cx="346.67" cy="601.70" r="3.10" fill="#0080ff"/><circle cx="346.67" cy="598.19" r="3.10" fill="#0080ff"/><circle cx="346.67" cy="594.86" r="3.10" fill="#0080ff"/><circle cx="346.67" cy="591.71" r="3.10" fill="#0080ff"/><circle cx="346.67" cy="588.71" r="3.10" fill="#0080ff"/><circle cx="346.67" cy="585.86" r="3.10" fill="#000080"/><circle cx="349.91" cy="634.31" r="3.10" fill="#000080"/><circle cx="349.91" cy="628.45" r="3.10" fill="#0080ff"/><circle cx="349.91" cy="623.10" r="3.10" fill="#0080ff"/><circle cx="349.91" cy="618.19" r="3.10" fill="#0080ff"/><circle cx="349.91" cy="613.63" r="3.10" fill="#0080ff"/><circle cx="349.91" cy="609.39" r="3.10" fill="#0080ff"/><circle cx="349.91" cy="605.43" r="3.10" fill="#0080ff"/><circle cx="349.91" cy="601.70" r="3.10" fill="#0080ff"/><circle cx="349.91" cy="598.19" r="3.10" fill="#0080ff"/><circle cx="349.91" cy="594.86" r="3.10" fill="#0080ff"/><circle cx="349.91" cy="591.71" r="3.10" fill="#0080ff"/><circle cx="349.91" cy="588.71" r="3.10" fill="#0080ff"/><circle cx="349.91" cy="585.86" r="3.10" fill="#0080ff"/><circle cx="349.91" cy="583.12" r="3.10" fill="#000080"/><circle cx="349.91" cy="580.51" r="3.10" fill="#000080"/><circle cx="353.15" cy="634.31" r="3.10" fill="#000080"/><circle cx="353.15" cy="628.45" r="3.10" fill="#0080ff"/><circle cx="353.15" cy="623.10" r="3.10" fill="#0080ff"/><circle cx="353.15" cy="618.19" r="3.10" fill="#0080ff"/><circle cx="353.15" cy="613.63" r="3.10" fill="#0080ff"/><circle cx="353.15" cy="609.39" r="3.10" fill="#0080ff"/><circle cx="353.15" cy="605.43" r="3.10" fill="#0080ff"/><circle cx="353.15" cy="601.70" r="3.10" fill="#0080ff"/><circle cx="353.15" cy="598.19" r="3.10" fill="#0080ff"/><circle cx="353.15" cy="594.86" r="3.10" fill="#0080ff"/><circle cx="353.15" cy="591.71" r="3.10" fill="#0080ff"/><circle cx="353.15" cy="588.71" r="3.10" fill="#0080ff"/><circle cx="353.15" cy="585.86" r="3.10" fill="#0080ff"/><circle cx="353.15" cy="583.12" r="3.10" fill="#0080ff"/><circle cx="353.15" cy="580.51" r="3.10" fill="#0080ff"/><circle cx="356.39" cy="634.31" r="3.10" fill="#000080"/><circle cx="356.39" cy="628.45" r="3.10" fill="#0080ff"/><circle cx="356.39" cy="623.10" r="3.10" fill="#0080ff"/><circle cx="356.39" cy="618.19" r="3.10" fill="#0080ff"/><circle cx="356.39" cy="613.63" r="3.10" fill="#0080ff"/><circle cx="356.39" cy="609.39" r="3.10" fill="#0080ff"/><circle cx="356.39" cy="605.43" r="3.10" fill="#0080ff"/><circle cx="356.39" cy="601.70" r="3.10" fill="#0080ff"/><circle cx="356.39" cy="598.19" r="3.10" fill="#0080ff"/><circle cx="356.39" cy="594.86" r="3.10" fill="#0080ff"/><circle cx="356.39" cy="591.71" r="3.10" fill="#0080ff"/><circle cx="356.39" cy="588.71" r="3.10" fill="#0080ff"/><circle cx="356.39" cy="585.86" r="3.10" fill="#000080"/><circle cx="356.39" cy="583.12" r="3.10" fill="#000080"/><circle cx="356.39" cy="580.51" r="3.10" fill="#000080"/><circle cx="359.62" cy="634.31" r="3.10" fill="#000080"/><circle cx="359.62" cy="628.45" r="3.10" fill="#0080ff"/><circle cx="359.62" cy="623.10" r="3.10" fill="#0080ff"/><circle cx="359.62" cy="618.19" r="3.10" fill="#0080ff"/><circle cx="359.62" cy="613.63" r="3.10" fill="#0080ff"/><circle cx="359.62" cy="609.39" r="3.10" fill="#0080ff"/><circle cx="359.62" cy="605.43" r="3.10" fill="#0080ff"/><circle cx="359.62" cy="601.70" r="3.10" fill="#0080ff"/><circle cx="359.62" cy="598.19" r="3.10" fill="#0080ff"/><circle cx="359.62" cy="594.86" r="3.10" fill="#0080ff"/><circle cx="359.62" cy="591.71" r="3.10" fill="#000080"/><circle cx="359.62" cy="588.71" r="3.10" fill="#000080"/><circle cx="362.86" cy="634.31" r="3.10" fill="#000080"/><circle cx="362.86" cy="628.45" r="3.10" fill="#0080ff"/><circle cx="362.86" cy="623.10" r="3.10" fill="#0080ff"/><circle cx="362.86" cy="618.19" r="3.10" fill="#0080ff"/><circle cx="362.86" cy="613.63" r="3.10" fill="#0080ff"/><circle cx="362.86" cy="609.39" r="3.10" fill="#0080ff"/><circle cx="362.86" cy="605.43" r="3.10" fill="#0080ff"/><circle cx="362.86" cy="601.70" r="3.10" fill="#0080ff"/><circle cx="362.86" cy="598.19" r="3.10" fill="#000080"/><circle cx="362.86" cy="594.86" r="3.10" fill="#000080"/><circle cx="366.10" cy="628.45" r="3.10" fill="#000080"/><circle cx="366.10" cy="623.10" r="3.10" fill="#0080ff"/><circle cx="366.10" cy="618.19" r="3.10" fill="#0080ff"/><circle cx="366.10" cy="613.63" r="3.10" fill="#0080ff"/><circle cx="366.10" cy="609.39" r="3.10" fill="#0080ff"/><circle cx="366.10" cy="605.43" r="3.10" fill="#0080ff"/><circle cx="366.10" cy="601.70" r="3.10" fill="#000080"/><circle cx="369.34" cy="623.10" r="3.10" fill="#000080"/><circle cx="369.34" cy="618.19" r="3.10" fill="#0080ff"/><circle cx="369.34" cy="613.63" r="3.10" fill="#0080ff"/><circle cx="369.34" cy="609.39" r="3.10" fill="#000080"/><circle cx="369.34" cy="605.43" r="3.10" fill="#000080"/><circle cx="372.58" cy="618.19" r="3.10" fill="#000080"/><circle cx="372.58" cy="613.63" r="3.10" fill="#000080"/><circle cx="354.77" cy="580.51" r="3.10" fill="#0080ff"/><circle cx="356.39" cy="591.71" r="3.10" fill="#0000ff"/><circle cx="356.39" cy="585.86" r="3.10" fill="#0000ff"/><circle cx="356.39" cy="580.51" r="3.10" fill="#49ffad"/><circle cx="356.39" cy="575.59" r="3.10" fill="#000080"/><circle cx="358.01" cy="591.71" r="3.10" fill="#ff9400"/><circle cx="358.01" cy="585.86" r="3.10" fill="#49ffad"/><circle cx="358.01" cy="580.51" r="3.10" fill="#ff9400"/><circle cx="358.01" cy="575.59" r="3.10" fill="#0000ff"/><circle cx="359.62" cy="598.19" r="3.10" fill="#000080"/><circle cx="359.62" cy="591.71" r="3.10" fill="#e4ff13"/><circle cx="359.62" cy="585.86" r="3.10" fill="#800000"/><circle cx="359.62" cy="580.51" r="3.10" fill="#b1ff46"/><circle cx="359.62" cy="575.59" r="3.10" fill="#0080ff"/><circle cx="361.24" cy="598.19" r="3.10" fill="#16ffe1"/><circle cx="361.24" cy="591.71" r="3.10" fill="#800000"/><circle cx="361.24" cy="585.86" r="3.10" fill="#e4ff13"/><circle cx="361.24" cy="580.51" r="3.10" fill="#ff9400"/><circle cx="361.24" cy="575.59" r="3.10" fill="#0080ff"/><circle cx="361.24" cy="571.04" r="3.10" fill="#000080"/><circle cx="362.86" cy="605.43" r="3.10" fill="#7dff7a"/><circle cx="362.86" cy="598.19" r="3.10" fill="#ff5900"/><circle cx="362.86" cy="591.71" r="3.10" fill="#e4ff13"/><circle cx="362.86" cy="585.86" r="3.10" fill="#800000"/><circle cx="362.86" cy="580.51" r="3.10" fill="#0080ff"/><circle cx="362.86" cy="575.59" r="3.10" fill="#0080ff"/><circle cx="362.86" cy="571.04" r="3.10" fill="#0080ff"/><circle cx="364.48" cy="613.63" r="3.10" fill="#0000ff"/><circle cx="364.48" cy="605.43" r="3.10" fill="#800000"/><circle cx="364.48" cy="598.19" r="3.10" fill="#e4ff13"/><circle cx="364.48" cy="591.71" r="3.10" fill="#0080ff"/><circle cx="364.48" cy="585.86" r="3.10" fill="#49ffad"/><circle cx="364.48" cy="580.51" r="3.10" fill="#0080ff"/><circle cx="364.48" cy="575.59" r="3.10" fill="#0080ff"/><circle cx="364.48" cy="571.04" r="3.10" fill="#0080ff"/><circle cx="364.48" cy="566.80" r="3.10" fill="#000080"/><circle cx="366.10" cy="623.10" r="3.10" fill="#000080"/><circle cx="366.10" cy="613.63" r="3.10" fill="#ff9400"/><circle cx="366.10" cy="605.43" r="3.10" fill="#e4ff13"/><circle cx="366.10" cy="598.19" r="3.10" fill="#800000"/><circle cx="366.10" cy="591.71" r="3.10" fill="#0080ff"/><circle cx="366.10" cy="585.86" r="3.10" fill="#0080ff"/><circle cx="366.10" cy="580.51" r="3.10" fill="#0080ff"/><circle cx="366.10" cy="575.59" r="3.10" fill="#0080ff"/><circle cx="366.10" cy="571.04" r="3.10" fill="#0080ff"/><circle cx="366.10" cy="566.80" r="3.10" fill="#0080ff"/><circle cx="366.10" cy="562.83" r="3.10" fill="#0000ff"/><circle cx="366.10" cy="559.10" r="3.10" fill="#000080"/><circle cx="367.72" cy="623.10" r="3.10" fill="#0000ff"/><circle cx="367.72" cy="613.63" r="3.10" fill="#e4ff13"/><circle cx="367.72" cy="605.43" r="3.10" fill="#800000"/><circle cx="367.72" cy="598.19" r="3.10" fill="#b1ff46"/><circle cx="367.72" cy="591.71" r="3.10" fill="#0080ff"/><circle cx="367.72" cy="585.86" r="3.10" fill="#0080ff"/><circle cx="367.72" cy="580.51" r="3.10" fill="#0080ff"/><circle cx="367.72" cy="575.59" r="3.10" fill="#0080ff"/><circle cx="367.72" cy="571.04" r="3.10" fill="#0080ff"/><circle cx="367.72" cy="566.80" r="3.10" fill="#0080ff"/><circle cx="367.72" cy="562.83" r="3.10" fill="#0000ff"/><circle cx="367.72" cy="559.10" r="3.10" fill="#0080ff"/><circle cx="369.34" cy="623.10" r="3.10" fill="#0000ff"/><circle cx="369.34" cy="613.63" r="3.10" fill="#800000"/><circle cx="369.34" cy="605.43" r="3.10" fill="#16ffe1"/><circle cx="369.34" cy="598.19" r="3.10" fill="#49ffad"/><circle cx="369.34" cy="591.71" r="3.10" fill="#0080ff"/><circle cx="369.34" cy="585.86" r="3.10" fill="#0080ff"/><circle cx="369.34" cy="580.51" r="3.10" fill="#0080ff"/><circle cx="369.34" cy="575.59" r="3.10" fill="#0080ff"/><circle cx="369.34" cy="571.04" r="3.10" fill="#0080ff"/><circle cx="369.34" cy="566.80" r="3.10" fill="#0080ff"/><circle cx="369.34" cy="562.83" r="3.10" fill="#0080ff"/><circle cx="369.34" cy="559.10" r="3.10" fill="#0080ff"/><circle cx="369.34" cy="555.59" r="3.10" fill="#000080"/><circle cx="369.34" cy="552.27" r="3.10" fill="#000080"/><circle cx="370.96" cy="623.10" r="3.10" fill="#0000ff"/><circle cx="370.96" cy="613.63" r="3.10" fill="#e4ff13"/><circle cx="370.96" cy="605.43" r="3.10" fill="#0080ff"/><circle cx="370.96" cy="598.19" r="3.10" fill="#0080ff"/><circle cx="370.96" cy="591.71" r="3.10" fill="#0080ff"/><circle cx="370.96" cy="585.86" r="3.10" fill="#0080ff"/><circle cx="370.96" cy="580.51" r="3.10" fill="#0080ff"/><circle cx="370.96" cy="575.59" r="3.10" fill="#0080ff"/><circle cx="370.96" cy="571.04" r="3.10" fill="#0080ff"/><circle cx="370.96" cy="566.80" r="3.10" fill="#0080ff"/><circle cx="370.96" cy="562.83" r="3.10" fill="#0080ff"/><circle cx="370.96" cy="559.10" r="3.10" fill="#0080ff"/><circle cx="370.96" cy="555.59" r="3.10" fill="#0080ff"/><circle cx="370.96" cy="552.27" r="3.10" fill="#0080ff"/><circle cx="372.58" cy="623.10" r="3.10" fill="#0000ff"/><circle cx="372.58" cy="613.63" r="3.10" fill="#ff9400"/><circle cx="372.58" cy="605.43" r="3.10" fill="#0080ff"/><circle cx="372.58" cy="598.19" r="3.10" fill="#0080ff"/><circle cx="372.58" cy="591.71" r="3.10" fill="#0080ff"/><circle cx="372.58" cy="585.86" r="3.10" fill="#0080ff"/><circle cx="372.58" cy="580.51" r="3.10" fill="#0080ff"/><circle cx="372.58" cy="575.59" r="3.10" fill="#0080ff"/><circle cx="372.58" cy="571.04" r="3.10" fill="#0080ff"/><circle cx="372.58" cy="566.80" r="3.10" fill="#0080ff"/><circle cx="372.58" cy="562.83" r="3.10" fill="#0080ff"/><circle cx="372.58" cy="559.10" r="3.10" fill="#0080ff"/><circle cx="372.58" cy="555.59" r="3.10" fill="#0080ff"/><circle cx="372.58" cy="552.27" r="3.10" fill="#0080ff"/><circle cx="374.20" cy="613.63" r="3.10" fill="#000080"/><circle cx="374.20" cy="605.43" r="3.10" fill="#0080ff"/><circle cx="374.20" cy="598.19" r="3.10" fill="#0080ff"/><circle cx="374.20" cy="591.71" r="3.10" fill="#0080ff"/><circle cx="374.20" cy="585.86" r="3.10" fill="#0080ff"/><circle cx="374.20" cy="580.51" r="3.10" fill="#0080ff"/><circle cx="374.20" cy="575.59" r="3.10" fill="#0080ff"/><circle cx="374.20" cy="571.04" r="3.10" fill="#0080ff"/><circle cx="374.20" cy="566.80" r="3.10" fill="#0080ff"/><circle cx="374.20" cy="562.83" r="3.10" fill="#0080ff"/><circle cx="374.20" cy="559.10" r="3.10" fill="#0080ff"/><circle cx="374.20" cy="555.59" r="3.10" fill="#0080ff"/><circle cx="374.20" cy="552.27" r="3.10" fill="#0080ff"/><circle cx="375.82" cy="605.43" r="3.10" fill="#0000ff"/><circle cx="375.82" cy="598.19" r="3.10" fill="#0080ff"/><circle cx="375.82" cy="591.71" r="3.10" fill="#0080ff"/><circle cx="375.82" cy="585.86" r="3.10" fill="#0080ff"/><circle cx="375.82" cy="580.51" r="3.10" fill="#0080ff"/><circle cx="375.82" cy="575.59" r="3.10" fill="#0080ff"/><circle cx="375.82" cy="571.04" r="3.10" fill="#0080ff"/><circle cx="375.82" cy="566.80" r="3.10" fill="#0080ff"/><circle cx="375.82" cy="562.83" r="3.10" fill="#0080ff"/><circle cx="375.82" cy="559.10" r="3.10" fill="#0080ff"/><circle cx="375.82" cy="555.59" r="3.10" fill="#0080ff"/><circle cx="375.82" cy="552.27" r="3.10" fill="#0080ff"/><circle cx="377.44" cy="605.43" r="3.10" fill="#000080"/><circle cx="377.44" cy="598.19" r="3.10" fill="#0080ff"/><circle cx="377.44" cy="591.71" r="3.10" fill="#0080ff"/><circle cx="377.44" cy="585.86" r="3.10" fill="#0080ff"/><circle cx="377.44" cy="580.51" r="3.10" fill="#0080ff"/><circle cx="377.44" cy="575.59" r="3.10" fill="#0080ff"/><circle cx="377.44" cy="571.04" r="3.10" fill="#0080ff"/><circle cx="377.44" cy="566.80" r="3.10" fill="#0080ff"/><circle cx="377.44" cy="562.83" r="3.10" fill="#0080ff"/><circle cx="377.44" cy="559.10" r="3.10" fill="#0080ff"/><circle cx="377.44" cy="555.59" r="3.10" fill="#0080ff"/><circle cx="377.44" cy="552.27" r="3.10" fill="#0080ff"/><circle cx="379.06" cy="598.19" r="3.10" fill="#0080ff"/><circle cx="379.06" cy="591.71" r="3.10" fill="#0080ff"/><circle cx="379.06" cy="585.86" r="3.10" fill="#0080ff"/><circle cx="379.06" cy="580.51" r="3.10" fill="#0080ff"/><circle cx="379.06" cy="575.59" r="3.10" fill="#0080ff"/><circle cx="379.06" cy="571.04" r="3.10" fill="#0080ff"/><circle cx="379.06" cy="566.80" r="3.10" fill="#0080ff"/><circle cx="379.06" cy="562.83" r="3.10" fill="#0080ff"/><circle cx="380.68" cy="598.19" r="3.10" fill="#000080"/><circle cx="369.34" cy="555.59" r="3.10" fill="#b1ff46"/><circle cx="370.15" cy="562.83" r="3.10" fill="#ff9400"/><circle cx="370.15" cy="555.59" r="3.10" fill="#e4ff13"/><circle cx="370.96" cy="571.04" r="3.10" fill="#ff9400"/><circle cx="370.96" cy="562.83" r="3.10" fill="#e4ff13"/><circle cx="370.96" cy="555.59" r="3.10" fill="#b1ff46"/><circle cx="370.96" cy="549.12" r="3.10" fill="#0000ff"/><circle cx="371.77" cy="580.51" r="3.10" fill="#ff9400"/><circle cx="371.77" cy="571.04" r="3.10" fill="#e4ff13"/><circle cx="371.77" cy="562.83" r="3.10" fill="#ff9400"/><circle cx="371.77" cy="555.59" r="3.10" fill="#e4ff13"/><circle cx="371.77" cy="549.12" r="3.10" fill="#0080ff"/><circle cx="372.58" cy="591.71" r="3.10" fill="#49ffad"/><circle cx="372.58" cy="580.51" r="3.10" fill="#ff9400"/><circle cx="372.58" cy="571.04" r="3.10" fill="#ff9400"/><circle cx="372.58" cy="562.83" r="3.10" fill="#e4ff13"/><circle cx="372.58" cy="555.59" r="3.10" fill="#b1ff46"/><circle cx="372.58" cy="549.12" r="3.10" fill="#0080ff"/><circle cx="372.58" cy="543.26" r="3.10" fill="#000080"/><circle cx="373.39" cy="591.71" r="3.10" fill="#49ffad"/><circle cx="373.39" cy="580.51" r="3.10" fill="#e4ff13"/><circle cx="373.39" cy="571.04" r="3.10" fill="#e4ff13"/><circle cx="373.39" cy="562.83" r="3.10" fill="#ff9400"/><circle cx="373.39" cy="555.59" r="3.10" fill="#e4ff13"/><circle cx="373.39" cy="549.12" r="3.10" fill="#0080ff"/><circle cx="373.39" cy="543.26" r="3.10" fill="#0080ff"/><circle cx="373.39" cy="537.91" r="3.10" fill="#000080"/><circle cx="374.20" cy="591.71" r="3.10" fill="#49ffad"/><circle cx="374.20" cy="580.51" r="3.10" fill="#0080ff"/><circle cx="374.20" cy="571.04" r="3.10" fill="#ff9400"/><circle cx="374.20" cy="562.83" r="3.10" fill="#e4ff13"/><circle cx="374.20" cy="555.59" r="3.10" fill="#b1ff46"/><circle cx="374.20" cy="549.12" r="3.10" fill="#0080ff"/><circle cx="374.20" cy="543.26" r="3.10" fill="#0080ff"/><circle cx="374.20" cy="537.91" r="3.10" fill="#0080ff"/><circle cx="374.20" cy="532.99" r="3.10" fill="#0000ff"/><circle cx="375.01" cy="591.71" r="3.10" fill="#49ffad"/><circle cx="375.01" cy="580.51" r="3.10" fill="#0080ff"/><circle cx="375.01" cy="571.04" r="3.10" fill="#e4ff13"/><circle cx="375.01" cy="562.83" r="3.10" fill="#0080ff"/><circle cx="375.01" cy="555.59" r="3.10" fill="#0080ff"/><circle cx="375.01" cy="549.12" r="3.10" fill="#0080ff"/><circle cx="375.01" cy="543.26" r="3.10" fill="#0080ff"/><circle cx="375.01" cy="537.91" r="3.10" fill="#0080ff"/><circle cx="375.01" cy="532.99" r="3.10" fill="#0080ff"/><circle cx="375.82" cy="591.71" r="3.10" fill="#49ffad"/><circle cx="375.82" cy="580.51" r="3.10" fill="#0080ff"/><circle cx="375.82" cy="571.04" r="3.10" fill="#ff9400"/><circle cx="375.82" cy="562.83" r="3.10" fill="#0080ff"/><circle cx="375.82" cy="555.59" r="3.10" fill="#0080ff"/><circle cx="375.82" cy="549.12" r="3.10" fill="#0080ff"/><circle cx="375.82" cy="543.26" r="3.10" fill="#0080ff"/><circle cx="375.82" cy="537.91" r="3.10" fill="#0080ff"/><circle cx="375.82" cy="532.99" r="3.10" fill="#0080ff"/><circle cx="376.63" cy="591.71" r="3.10" fill="#0080ff"/><circle cx="376.63" cy="580.51" r="3.10" fill="#0080ff"/><circle cx="376.63" cy="571.04" r="3.10" fill="#e4ff13"/><circle cx="376.63" cy="562.83" r="3.10" fill="#0080ff"/><circle cx="376.63" cy="555.59" r="3.10" fill="#0080ff"/><circle cx="376.63" cy="549.12" r="3.10" fill="#0080ff"/><circle cx="376.63" cy="543.26" r="3.10" fill="#0080ff"/><circle cx="376.63" cy="537.91" r="3.10" fill="#0080ff"/><circle cx="376.63" cy="532.99" r="3.10" fill="#0080ff"/><circle cx="377.44" cy="591.71" r="3.10" fill="#0080ff"/><circle cx="377.44" cy="580.51" r="3.10" fill="#0080ff"/><circle cx="377.44" cy="571.04" r="3.10" fill="#ff9400"/><circle cx="377.44" cy="562.83" r="3.10" fill="#0080ff"/><circle cx="377.44" cy="555.59" r="3.10" fill="#0080ff"/><circle cx="377.44" cy="549.12" r="3.10" fill="#0080ff"/><circle cx="377.44" cy="543.26" r="3.10" fill="#0080ff"/><circle cx="377.44" cy="537.91" r="3.10" fill="#0080ff"/><circle cx="377.44" cy="532.99" r="3.10" fill="#0080ff"/><circle cx="378.25" cy="591.71" r="3.10" fill="#0080ff"/><circle cx="378.25" cy="580.51" r="3.10" fill="#0080ff"/><circle cx="378.25" cy="571.04" r="3.10" fill="#0080ff"/><circle cx="378.25" cy="562.83" r="3.10" fill="#0080ff"/><circle cx="378.25" cy="555.59" r="3.10" fill="#0080ff"/><circle cx="378.25" cy="549.12" r="3.10" fill="#0080ff"/><circle cx="378.25" cy="543.26" r="3.10" fill="#0080ff"/><circle cx="378.25" cy="537.91" r="3.10" fill="#0080ff"/><circle cx="378.25" cy="532.99" r="3.10" fill="#0080ff"/><circle cx="379.06" cy="591.71" r="3.10" fill="#0080ff"/><circle cx="379.06" cy="580.51" r="3.10" fill="#0080ff"/><circle cx="379.06" cy="571.04" r="3.10" fill="#0080ff"/><circle cx="379.06" cy="562.83" r="3.10" fill="#0080ff"/><circle cx="379.06" cy="555.59" r="3.10" fill="#0080ff"/><circle cx="379.06" cy="549.12" r="3.10" fill="#0080ff"/><circle cx="379.06" cy="543.26" r="3.10" fill="#0080ff"/><circle cx="379.06" cy="537.91" r="3.10" fill="#0080ff"/><circle cx="379.06" cy="532.99" r="3.10" fill="#0080ff"/><circle cx="379.87" cy="591.71" r="3.10" fill="#0080ff"/><circle cx="379.87" cy="580.51" r="3.10" fill="#0080ff"/><circle cx="379.87" cy="571.04" r="3.10" fill="#0080ff"/><circle cx="379.87" cy="562.83" r="3.10" fill="#0080ff"/><circle cx="379.87" cy="555.59" r="3.10" fill="#0080ff"/><circle cx="379.87" cy="549.12" r="3.10" fill="#0080ff"/><circle cx="379.87" cy="543.26" r="3.10" fill="#0080ff"/><circle cx="379.87" cy="537.91" r="3.10" fill="#0080ff"/><circle cx="379.87" cy="532.99" r="3.10" fill="#0080ff"/><circle cx="380.68" cy="591.71" r="3.10" fill="#0080ff"/><circle cx="380.68" cy="580.51" r="3.10" fill="#0080ff"/><circle cx="380.68" cy="571.04" r="3.10" fill="#0080ff"/><circle cx="380.68" cy="562.83" r="3.10" fill="#0080ff"/><circle cx="380.68" cy="555.59" r="3.10" fill="#0080ff"/><circle cx="380.68" cy="549.12" r="3.10" fill="#0080ff"/><circle cx="380.68" cy="543.26" r="3.10" fill="#0080ff"/><circle cx="380.68" cy="537.91" r="3.10" fill="#0080ff"/><circle cx="380.68" cy="532.99" r="3.10" fill="#0080ff"/><circle cx="381.49" cy="591.71" r="3.10" fill="#000080"/><circle cx="381.49" cy="580.51" r="3.10" fill="#0080ff"/><circle cx="381.49" cy="571.04" r="3.10" fill="#0080ff"/><circle cx="381.49" cy="562.83" r="3.10" fill="#0080ff"/><circle cx="381.49" cy="555.59" r="3.10" fill="#0080ff"/><circle cx="381.49" cy="549.12" r="3.10" fill="#0080ff"/><circle cx="381.49" cy="543.26" r="3.10" fill="#0080ff"/><circle cx="381.49" cy="537.91" r="3.10" fill="#0080ff"/><circle cx="381.49" cy="532.99" r="3.10" fill="#0080ff"/><circle cx="382.30" cy="580.51" r="3.10" fill="#0080ff"/><circle cx="382.30" cy="571.04" r="3.10" fill="#0080ff"/><circle cx="382.30" cy="562.83" r="3.10" fill="#0080ff"/><circle cx="382.30" cy="555.59" r="3.10" fill="#0080ff"/><circle cx="382.30" cy="549.12" r="3.10" fill="#0080ff"/><circle cx="383.11" cy="580.51" r="3.10" fill="#000080"/><circle cx="383.11" cy="571.04" r="3.10" fill="#000080"/><circle cx="383.11" cy="562.83" r="3.10" fill="#000080"/><circle cx="375.01" cy="537.91" r="3.10" fill="#e4ff13"/><circle cx="375.01" cy="528.44" r="3.10" fill="#0000ff"/><circle cx="375.42" cy="549.12" r="3.10" fill="#b08c40"/><circle cx="375.42" cy="537.91" r="3.10" fill="#e4ff13"/><circle cx="375.42" cy="528.44" r="3.10" fill="#0000ff"/><circle cx="375.82" cy="549.12" r="3.10" fill="#b08c40"/><circle cx="375.82" cy="537.91" r="3.10" fill="#7fbf80"/><circle cx="375.82" cy="528.44" r="3.10" fill="#0000ff"/><circle cx="376.23" cy="562.83" r="3.10" fill="#b08c40"/><circle cx="376.23" cy="549.12" r="3.10" fill="#b08c40"/><circle cx="376.23" cy="537.91" r="3.10" fill="#7fbf80"/><circle cx="376.23" cy="528.44" r="3.10" fill="#0000ff"/><circle cx="376.23" cy="520.23" r="3.10" fill="#0000ff"/><circle cx="376.63" cy="562.83" r="3.10" fill="#b08c40"/><circle cx="376.63" cy="549.12" r="3.10" fill="#b08c40"/><circle cx="376.63" cy="537.91" r="3.10" fill="#7fbf80"/><circle cx="376.63" cy="528.44" r="3.10" fill="#0000ff"/><circle cx="376.63" cy="520.23" r="3.10" fill="#ffb900"/><circle cx="376.63" cy="513.00" r="3.10" fill="#0000ff"/><circle cx="377.04" cy="580.51" r="3.10" fill="#0000ff"/><circle cx="377.04" cy="562.83" r="3.10" fill="#b08c40"/><circle cx="377.04" cy="549.12" r="3.10" fill="#b08c40"/><circle cx="377.04" cy="537.91" r="3.10" fill="#7fbf80"/><circle cx="377.04" cy="528.44" r="3.10" fill="#0080ff"/><circle cx="377.04" cy="520.23" r="3.10" fill="#ffb900"/><circle cx="377.04" cy="513.00" r="3.10" fill="#0000ff"/><circle cx="377.44" cy="580.51" r="3.10" fill="#0000ff"/><circle cx="377.44" cy="562.83" r="3.10" fill="#b08c40"/><circle cx="377.44" cy="549.12" r="3.10" fill="#b08c40"/><circle cx="377.44" cy="537.91" r="3.10" fill="#7fbf80"/><circle cx="377.44" cy="528.44" r="3.10" fill="#0080ff"/><circle cx="377.44" cy="520.23" r="3.10" fill="#ffb900"/><circle cx="377.44" cy="513.00" r="3.10" fill="#0000ff"/><circle cx="377.85" cy="580.51" r="3.10" fill="#0000ff"/><circle cx="377.85" cy="562.83" r="3.10" fill="#b08c40"/><circle cx="377.85" cy="549.12" r="3.10" fill="#b08c40"/><circle cx="377.85" cy="537.91" r="3.10" fill="#7fbf80"/><circle cx="377.85" cy="528.44" r="3.10" fill="#0080ff"/><circle cx="377.85" cy="520.23" r="3.10" fill="#ffb900"/><circle cx="377.85" cy="513.00" r="3.10" fill="#0000ff"/><circle cx="378.25" cy="580.51" r="3.10" fill="#0000ff"/><circle cx="378.25" cy="562.83" r="3.10" fill="#b08c40"/><circle cx="378.25" cy="549.12" r="3.10" fill="#b08c40"/><circle cx="378.25" cy="537.91" r="3.10" fill="#7fbf80"/><circle cx="378.25" cy="528.44" r="3.10" fill="#0080ff"/><circle cx="378.25" cy="520.23" r="3.10" fill="#ffb900"/><circle cx="378.25" cy="513.00" r="3.10" fill="#0000ff"/><circle cx="378.66" cy="580.51" r="3.10" fill="#0000ff"/><circle cx="378.66" cy="562.83" r="3.10" fill="#b08c40"/><circle cx="378.66" cy="549.12" r="3.10" fill="#b08c40"/><circle cx="378.66" cy="537.91" r="3.10" fill="#7fbf80"/><circle cx="378.66" cy="528.44" r="3.10" fill="#0080ff"/><circle cx="378.66" cy="520.23" r="3.10" fill="#ffb900"/><circle cx="378.66" cy="513.00" r="3.10" fill="#0000ff"/><circle cx="379.06" cy="580.51" r="3.10" fill="#0000ff"/><circle cx="379.06" cy="562.83" r="3.10" fill="#b08c40"/><circle cx="379.06" cy="549.12" r="3.10" fill="#b08c40"/><circle cx="379.06" cy="537.91" r="3.10" fill="#7fbf80"/><circle cx="379.06" cy="528.44" r="3.10" fill="#0080ff"/><circle cx="379.06" cy="520.23" r="3.10" fill="#ffb900"/><circle cx="379.06" cy="513.00" r="3.10" fill="#0000ff"/><circle cx="379.47" cy="580.51" r="3.10" fill="#0000ff"/><circle cx="379.47" cy="562.83" r="3.10" fill="#b08c40"/><circle cx="379.47" cy="549.12" r="3.10" fill="#b08c40"/><circle cx="379.47" cy="537.91" r="3.10" fill="#7fbf80"/><circle cx="379.47" cy="528.44" r="3.10" fill="#0080ff"/><circle cx="379.47" cy="520.23" r="3.10" fill="#ffb900"/><circle cx="379.47" cy="513.00" r="3.10" fill="#0000ff"/><circle cx="379.87" cy="580.51" r="3.10" fill="#0000ff"/><circle cx="379.87" cy="562.83" r="3.10" fill="#b08c40"/><circle cx="379.87" cy="549.12" r="3.10" fill="#b08c40"/><circle cx="379.87" cy="537.91" r="3.10" fill="#7fbf80"/><circle cx="379.87" cy="528.44" r="3.10" fill="#0080ff"/><circle cx="379.87" cy="520.23" r="3.10" fill="#ffb900"/><circle cx="379.87" cy="513.00" r="3.10" fill="#0000ff"/><circle cx="380.28" cy="580.51" r="3.10" fill="#0000ff"/><circle cx="380.28" cy="562.83" r="3.10" fill="#b08c40"/><circle cx="380.28" cy="549.12" r="3.10" fill="#b08c40"/><circle cx="380.28" cy="537.91" r="3.10" fill="#7fbf80"/><circle cx="380.28" cy="528.44" r="3.10" fill="#0080ff"/><circle cx="380.28" cy="520.23" r="3.10" fill="#ffb900"/><circle cx="380.28" cy="513.00" r="3.10" fill="#0000ff"/><circle cx="380.68" cy="580.51" r="3.10" fill="#0000ff"/><circle cx="380.68" cy="562.83" r="3.10" fill="#b08c40"/><circle cx="380.68" cy="549.12" r="3.10" fill="#b08c40"/><circle cx="380.68" cy="537.91" r="3.10" fill="#7fbf80"/><circle cx="380.68" cy="528.44" r="3.10" fill="#0080ff"/><circle cx="380.68" cy="520.23" r="3.10" fill="#ffb900"/><circle cx="380.68" cy="513.00" r="3.10" fill="#0000ff"/><circle cx="381.09" cy="580.51" r="3.10" fill="#0000ff"/><circle cx="381.09" cy="562.83" r="3.10" fill="#b08c40"/><circle cx="381.09" cy="549.12" r="3.10" fill="#b08c40"/><circle cx="381.09" cy="537.91" r="3.10" fill="#7fbf80"/><circle cx="381.09" cy="528.44" r="3.10" fill="#0080ff"/><circle cx="381.09" cy="520.23" r="3.10" fill="#ffb900"/><circle cx="381.09" cy="513.00" r="3.10" fill="#0000ff"/><circle cx="381.49" cy="580.51" r="3.10" fill="#0000ff"/><circle cx="381.49" cy="562.83" r="3.10" fill="#b08c40"/><circle cx="381.49" cy="549.12" r="3.10" fill="#b08c40"/><circle cx="381.49" cy="537.91" r="3.10" fill="#7fbf80"/><circle cx="381.49" cy="528.44" r="3.10" fill="#0080ff"/><circle cx="381.49" cy="520.23" r="3.10" fill="#ffb900"/><circle cx="381.49" cy="513.00" r="3.10" fill="#0000ff"/><circle cx="381.90" cy="580.51" r="3.10" fill="#0000ff"/><circle cx="381.90" cy="562.83" r="3.10" fill="#b08c40"/><circle cx="381.90" cy="549.12" r="3.10" fill="#b08c40"/><circle cx="381.90" cy="537.91" r="3.10" fill="#7fbf80"/><circle cx="381.90" cy="528.44" r="3.10" fill="#0080ff"/><circle cx="381.90" cy="520.23" r="3.10" fill="#ffb900"/><circle cx="381.90" cy="513.00" r="3.10" fill="#0000ff"/><circle cx="382.30" cy="580.51" r="3.10" fill="#0000ff"/><circle cx="382.30" cy="562.83" r="3.10" fill="#b08c40"/><circle cx="382.30" cy="549.12" r="3.10" fill="#b08c40"/><circle cx="382.30" cy="537.91" r="3.10" fill="#7fbf80"/><circle cx="382.30" cy="528.44" r="3.10" fill="#0080ff"/><circle cx="382.30" cy="520.23" r="3.10" fill="#ffb900"/><circle cx="382.30" cy="513.00" r="3.10" fill="#0000ff"/><circle cx="382.71" cy="580.51" r="3.10" fill="#0000ff"/><circle cx="382.71" cy="562.83" r="3.10" fill="#b08c40"/><circle cx="382.71" cy="549.12" r="3.10" fill="#b08c40"/><circle cx="382.71" cy="537.91" r="3.10" fill="#7fbf80"/><circle cx="382.71" cy="528.44" r="3.10" fill="#0080ff"/><circle cx="382.71" cy="520.23" r="3.10" fill="#ffb900"/><circle cx="382.71" cy="513.00" r="3.10" fill="#0000ff"/><circle cx="383.11" cy="562.83" r="3.10" fill="#b08c40"/><circle cx="383.11" cy="549.12" r="3.10" fill="#b08c40"/><circle cx="383.11" cy="537.91" r="3.10" fill="#7fbf80"/><circle cx="383.11" cy="528.44" r="3.10" fill="#0080ff"/><circle cx="383.11" cy="520.23" r="3.10" fill="#ffb900"/><circle cx="383.11" cy="513.00" r="3.10" fill="#0000ff"/><circle cx="383.52" cy="562.83" r="3.10" fill="#b08c40"/><circle cx="383.52" cy="549.12" r="3.10" fill="#b08c40"/><circle cx="383.52" cy="537.91" r="3.10" fill="#000080"/><circle cx="383.52" cy="528.44" r="3.10" fill="#0080ff"/><circle cx="383.52" cy="520.23" r="3.10" fill="#0000ff"/><circle cx="383.52" cy="513.00" r="3.10" fill="#0000ff"/><circle cx="383.92" cy="562.83" r="3.10" fill="#000080"/><circle cx="383.92" cy="549.12" r="3.10" fill="#0080ff"/><circle cx="383.92" cy="528.44" r="3.10" fill="#0080ff"/><circle cx="376.84" cy="537.91" r="3.10" fill="#e4ff13"/><circle cx="377.04" cy="537.91" r="3.10" fill="#e4ff13"/><circle cx="377.04" cy="506.52" r="3.10" fill="#0000ff"/><circle cx="377.24" cy="537.91" r="3.10" fill="#86b884"/><circle cx="377.24" cy="520.23" r="3.10" fill="#0000ff"/><circle cx="377.24" cy="506.52" r="3.10" fill="#16ffe1"/><circle cx="377.24" cy="495.32" r="3.10" fill="#0000ff"/><circle cx="377.44" cy="537.91" r="3.10" fill="#86b884"/><circle cx="377.44" cy="520.23" r="3.10" fill="#e8b914"/><circle cx="377.44" cy="506.52" r="3.10" fill="#16ffe1"/><circle cx="377.44" cy="495.32" r="3.10" fill="#0000ff"/><circle cx="377.65" cy="537.91" r="3.10" fill="#86b884"/><circle cx="377.65" cy="520.23" r="3.10" fill="#e8b914"/><circle cx="377.65" cy="506.52" r="3.10" fill="#16ffe1"/><circle cx="377.65" cy="495.32" r="3.10" fill="#0000ff"/><circle cx="377.65" cy="485.84" r="3.10" fill="#0000ff"/><circle cx="377.85" cy="537.91" r="3.10" fill="#86b884"/><circle cx="377.85" cy="520.23" r="3.10" fill="#e8b914"/><circle cx="377.85" cy="506.52" r="3.10" fill="#16ffe1"/><circle cx="377.85" cy="495.32" r="3.10" fill="#0000ff"/><circle cx="377.85" cy="485.84" r="3.10" fill="#0000ff"/><circle cx="378.05" cy="537.91" r="3.10" fill="#86b884"/><circle cx="378.05" cy="520.23" r="3.10" fill="#e8b914"/><circle cx="378.05" cy="506.52" r="3.10" fill="#16ffe1"/><circle cx="378.05" cy="495.32" r="3.10" fill="#0000ff"/><circle cx="378.05" cy="485.84" r="3.10" fill="#0000ff"/><circle cx="378.05" cy="477.64" r="3.10" fill="#000080"/><circle cx="378.25" cy="537.91" r="3.10" fill="#86b884"/><circle cx="378.25" cy="520.23" r="3.10" fill="#e8b914"/><circle cx="378.25" cy="506.52" r="3.10" fill="#16ffe1"/><circle cx="378.25" cy="495.32" r="3.10" fill="#0000ff"/><circle cx="378.25" cy="485.84" r="3.10" fill="#0000ff"/><circle cx="378.25" cy="477.64" r="3.10" fill="#000080"/><circle cx="378.46" cy="537.91" r="3.10" fill="#86b884"/><circle cx="378.46" cy="520.23" r="3.10" fill="#e8b914"/><circle cx="378.46" cy="506.52" r="3.10" fill="#16ffe1"/><circle cx="378.46" cy="495.32" r="3.10" fill="#0000ff"/><circle cx="378.46" cy="485.84" r="3.10" fill="#0000ff"/><circle cx="378.46" cy="477.64" r="3.10" fill="#000080"/><circle cx="378.66" cy="537.91" r="3.10" fill="#86b884"/><circle cx="378.66" cy="520.23" r="3.10" fill="#e8b914"/><circle cx="378.66" cy="506.52" r="3.10" fill="#16ffe1"/><circle cx="378.66" cy="495.32" r="3.10" fill="#0000ff"/><circle cx="378.66" cy="485.84" r="3.10" fill="#0000ff"/><circle cx="378.66" cy="477.64" r="3.10" fill="#000080"/><circle cx="378.86" cy="537.91" r="3.10" fill="#86b884"/><circle cx="378.86" cy="520.23" r="3.10" fill="#e8b914"/><circle cx="378.86" cy="506.52" r="3.10" fill="#16ffe1"/><circle cx="378.86" cy="495.32" r="3.10" fill="#0000ff"/><circle cx="378.86" cy="485.84" r="3.10" fill="#0000ff"/><circle cx="378.86" cy="477.64" r="3.10" fill="#000080"/><circle cx="379.06" cy="537.91" r="3.10" fill="#86b884"/><circle cx="379.06" cy="520.23" r="3.10" fill="#e8b914"/><circle cx="379.06" cy="506.52" r="3.10" fill="#16ffe1"/><circle cx="379.06" cy="495.32" r="3.10" fill="#0000ff"/><circle cx="379.06" cy="485.84" r="3.10" fill="#0000ff"/><circle cx="379.06" cy="477.64" r="3.10" fill="#000080"/><circle cx="379.26" cy="537.91" r="3.10" fill="#86b884"/><circle cx="379.26" cy="520.23" r="3.10" fill="#e8b914"/><circle cx="379.26" cy="506.52" r="3.10" fill="#16ffe1"/><circle cx="379.26" cy="495.32" r="3.10" fill="#0000ff"/><circle cx="379.26" cy="485.84" r="3.10" fill="#0000ff"/><circle cx="379.26" cy="477.64" r="3.10" fill="#000080"/><circle cx="379.47" cy="537.91" r="3.10" fill="#86b884"/><circle cx="379.47" cy="520.23" r="3.10" fill="#e8b914"/><circle cx="379.47" cy="506.52" r="3.10" fill="#16ffe1"/><circle cx="379.47" cy="495.32" r="3.10" fill="#0000ff"/><circle cx="379.47" cy="485.84" r="3.10" fill="#0000ff"/><circle cx="379.47" cy="477.64" r="3.10" fill="#000080"/><circle cx="379.67" cy="537.91" r="3.10" fill="#86b884"/><circle cx="379.67" cy="520.23" r="3.10" fill="#e8b914"/><circle cx="379.67" cy="506.52" r="3.10" fill="#16ffe1"/><circle cx="379.67" cy="495.32" r="3.10" fill="#0000ff"/><circle cx="379.67" cy="485.84" r="3.10" fill="#0000ff"/><circle cx="379.67" cy="477.64" r="3.10" fill="#000080"/><circle cx="379.87" cy="537.91" r="3.10" fill="#86b884"/><circle cx="379.87" cy="520.23" r="3.10" fill="#e8b914"/><circle cx="379.87" cy="506.52" r="3.10" fill="#16ffe1"/><circle cx="379.87" cy="495.32" r="3.10" fill="#0000ff"/><circle cx="379.87" cy="485.84" r="3.10" fill="#0000ff"/><circle cx="379.87" cy="477.64" r="3.10" fill="#000080"/><circle cx="380.07" cy="537.91" r="3.10" fill="#86b884"/><circle cx="380.07" cy="520.23" r="3.10" fill="#e8b914"/><circle cx="380.07" cy="506.52" r="3.10" fill="#16ffe1"/><circle cx="380.07" cy="495.32" r="3.10" fill="#0000ff"/><circle cx="380.07" cy="485.84" r="3.10" fill="#0000ff"/><circle cx="380.07" cy="477.64" r="3.10" fill="#000080"/><circle cx="380.28" cy="537.91" r="3.10" fill="#86b884"/><circle cx="380.28" cy="520.23" r="3.10" fill="#e8b914"/><circle cx="380.28" cy="506.52" r="3.10" fill="#16ffe1"/><circle cx="380.28" cy="495.32" r="3.10" fill="#0000ff"/><circle cx="380.28" cy="485.84" r="3.10" fill="#0000ff"/><circle cx="380.28" cy="477.64" r="3.10" fill="#000080"/><circle cx="380.48" cy="537.91" r="3.10" fill="#86b884"/><circle cx="380.48" cy="520.23" r="3.10" fill="#e8b914"/><circle cx="380.48" cy="506.52" r="3.10" fill="#16ffe1"/><circle cx="380.48" cy="495.32" r="3.10" fill="#0000ff"/><circle cx="380.48" cy="485.84" r="3.10" fill="#0000ff"/><circle cx="380.48" cy="477.64" r="3.10" fill="#000080"/><circle cx="380.68" cy="537.91" r="3.10" fill="#86b884"/><circle cx="380.68" cy="520.23" r="3.10" fill="#e8b914"/><circle cx="380.68" cy="506.52" r="3.10" fill="#16ffe1"/><circle cx="380.68" cy="495.32" r="3.10" fill="#0000ff"/><circle cx="380.68" cy="485.84" r="3.10" fill="#0000ff"/><circle cx="380.68" cy="477.64" r="3.10" fill="#000080"/><circle cx="380.88" cy="537.91" r="3.10" fill="#86b884"/><circle cx="380.88" cy="520.23" r="3.10" fill="#e8b914"/><circle cx="380.88" cy="506.52" r="3.10" fill="#16ffe1"/><circle cx="380.88" cy="495.32" r="3.10" fill="#0000ff"/><circle cx="380.88" cy="485.84" r="3.10" fill="#0000ff"/><circle cx="380.88" cy="477.64" r="3.10" fill="#000080"/><circle cx="381.09" cy="537.91" r="3.10" fill="#86b884"/><circle cx="381.09" cy="520.23" r="3.10" fill="#e8b914"/><circle cx="381.09" cy="506.52" r="3.10" fill="#16ffe1"/><circle cx="381.09" cy="495.32" r="3.10" fill="#0000ff"/><circle cx="381.09" cy="485.84" r="3.10" fill="#0000ff"/><circle cx="381.09" cy="477.64" r="3.10" fill="#000080"/><circle cx="381.29" cy="537.91" r="3.10" fill="#86b884"/><circle cx="381.29" cy="520.23" r="3.10" fill="#e8b914"/><circle cx="381.29" cy="506.52" r="3.10" fill="#16ffe1"/><circle cx="381.29" cy="495.32" r="3.10" fill="#0000ff"/><circle cx="381.29" cy="485.84" r="3.10" fill="#0000ff"/><circle cx="381.29" cy="477.64" r="3.10" fill="#000080"/><circle cx="381.49" cy="537.91" r="3.10" fill="#86b884"/><circle cx="381.49" cy="520.23" r="3.10" fill="#e8b914"/><circle cx="381.49" cy="506.52" r="3.10" fill="#16ffe1"/><circle cx="381.49" cy="495.32" r="3.10" fill="#0000ff"/><circle cx="381.49" cy="485.84" r="3.10" fill="#0000ff"/><circle cx="381.49" cy="477.64" r="3.10" fill="#000080"/><circle cx="381.69" cy="537.91" r="3.10" fill="#86b884"/><circle cx="381.69" cy="520.23" r="3.10" fill="#e8b914"/><circle cx="381.69" cy="506.52" r="3.10" fill="#16ffe1"/><circle cx="381.69" cy="495.32" r="3.10" fill="#0000ff"/><circle cx="381.69" cy="485.84" r="3.10" fill="#0000ff"/><circle cx="381.69" cy="477.64" r="3.10" fill="#000080"/><circle cx="381.90" cy="537.91" r="3.10" fill="#86b884"/><circle cx="381.90" cy="520.23" r="3.10" fill="#e8b914"/><circle cx="381.90" cy="506.52" r="3.10" fill="#16ffe1"/><circle cx="381.90" cy="495.32" r="3.10" fill="#0000ff"/><circle cx="381.90" cy="485.84" r="3.10" fill="#0000ff"/><circle cx="381.90" cy="477.64" r="3.10" fill="#000080"/><circle cx="382.10" cy="537.91" r="3.10" fill="#86b884"/><circle cx="382.10" cy="520.23" r="3.10" fill="#e8b914"/><circle cx="382.10" cy="506.52" r="3.10" fill="#16ffe1"/><circle cx="382.10" cy="495.32" r="3.10" fill="#0000ff"/><circle cx="382.10" cy="485.84" r="3.10" fill="#0000ff"/><circle cx="382.10" cy="477.64" r="3.10" fill="#000080"/><circle cx="382.30" cy="537.91" r="3.10" fill="#86b884"/><circle cx="382.30" cy="520.23" r="3.10" fill="#e8b914"/><circle cx="382.30" cy="506.52" r="3.10" fill="#16ffe1"/><circle cx="382.30" cy="495.32" r="3.10" fill="#0000ff"/><circle cx="382.30" cy="485.84" r="3.10" fill="#0000ff"/><circle cx="382.30" cy="477.64" r="3.10" fill="#000080"/><circle cx="382.50" cy="537.91" r="3.10" fill="#86b884"/><circle cx="382.50" cy="520.23" r="3.10" fill="#e8b914"/><circle cx="382.50" cy="506.52" r="3.10" fill="#16ffe1"/><circle cx="382.50" cy="495.32" r="3.10" fill="#0000ff"/><circle cx="382.50" cy="485.84" r="3.10" fill="#0000ff"/><circle cx="382.50" cy="477.64" r="3.10" fill="#000080"/><circle cx="382.71" cy="537.91" r="3.10" fill="#86b884"/><circle cx="382.71" cy="520.23" r="3.10" fill="#e8b914"/><circle cx="382.71" cy="506.52" r="3.10" fill="#16ffe1"/><circle cx="382.71" cy="495.32" r="3.10" fill="#0000ff"/><circle cx="382.71" cy="485.84" r="3.10" fill="#0000ff"/><circle cx="382.71" cy="477.64" r="3.10" fill="#000080"/><circle cx="382.91" cy="537.91" r="3.10" fill="#86b884"/><circle cx="382.91" cy="520.23" r="3.10" fill="#e8b914"/><circle cx="382.91" cy="506.52" r="3.10" fill="#16ffe1"/><circle cx="382.91" cy="495.32" r="3.10" fill="#0000ff"/><circle cx="382.91" cy="485.84" r="3.10" fill="#0000ff"/><circle cx="382.91" cy="477.64" r="3.10" fill="#000080"/><circle cx="383.11" cy="537.91" r="3.10" fill="#86b884"/><circle cx="383.11" cy="520.23" r="3.10" fill="#e8b914"/><circle cx="383.11" cy="506.52" r="3.10" fill="#16ffe1"/><circle cx="383.11" cy="495.32" r="3.10" fill="#0000ff"/><circle cx="383.11" cy="485.84" r="3.10" fill="#0000ff"/><circle cx="383.11" cy="477.64" r="3.10" fill="#000080"/><circle cx="383.31" cy="537.91" r="3.10" fill="#86b884"/><circle cx="383.31" cy="520.23" r="3.10" fill="#e8b914"/><circle cx="383.31" cy="506.52" r="3.10" fill="#16ffe1"/><circle cx="383.31" cy="495.32" r="3.10" fill="#0000ff"/><circle cx="383.31" cy="485.84" r="3.10" fill="#0000ff"/><circle cx="383.31" cy="477.64" r="3.10" fill="#000080"/><circle cx="383.52" cy="537.91" r="3.10" fill="#86b884"/><circle cx="383.52" cy="520.23" r="3.10" fill="#e8b914"/><circle cx="383.52" cy="506.52" r="3.10" fill="#16ffe1"/><circle cx="383.52" cy="495.32" r="3.10" fill="#0000ff"/><circle cx="383.52" cy="485.84" r="3.10" fill="#0000ff"/><circle cx="383.52" cy="477.64" r="3.10" fill="#000080"/><circle cx="383.72" cy="537.91" r="3.10" fill="#86b884"/><circle cx="383.72" cy="520.23" r="3.10" fill="#e8b914"/><circle cx="383.72" cy="506.52" r="3.10" fill="#0080ff"/><circle cx="383.72" cy="495.32" r="3.10" fill="#0000ff"/><circle cx="383.72" cy="485.84" r="3.10" fill="#0000ff"/><circle cx="383.72" cy="477.64" r="3.10" fill="#000080"/><circle cx="383.92" cy="537.91" r="3.10" fill="#86b884"/><circle cx="383.92" cy="520.23" r="3.10" fill="#e8b914"/><circle cx="383.92" cy="506.52" r="3.10" fill="#0080ff"/><circle cx="383.92" cy="495.32" r="3.10" fill="#0000ff"/><circle cx="383.92" cy="485.84" r="3.10" fill="#0000ff"/><circle cx="383.92" cy="477.64" r="3.10" fill="#000080"/><circle cx="384.12" cy="537.91" r="3.10" fill="#86b884"/><circle cx="384.12" cy="520.23" r="3.10" fill="#e8b914"/><circle cx="384.12" cy="506.52" r="3.10" fill="#0080ff"/><circle cx="384.12" cy="495.32" r="3.10" fill="#0000ff"/><circle cx="384.12" cy="485.84" r="3.10" fill="#0000ff"/><circle cx="384.12" cy="477.64" r="3.10" fill="#000080"/><circle cx="384.33" cy="537.91" r="3.10" fill="#86b884"/><circle cx="384.33" cy="520.23" r="3.10" fill="#e8b914"/><circle cx="384.33" cy="506.52" r="3.10" fill="#0080ff"/><circle cx="384.33" cy="495.32" r="3.10" fill="#0000ff"/><circle cx="384.33" cy="485.84" r="3.10" fill="#0000ff"/><circle cx="384.33" cy="477.64" r="3.10" fill="#000080"/><circle cx="384.53" cy="537.91" r="3.10" fill="#86b884"/><circle cx="384.53" cy="520.23" r="3.10" fill="#e8b914"/><circle cx="384.53" cy="506.52" r="3.10" fill="#0080ff"/><circle cx="384.53" cy="495.32" r="3.10" fill="#0000ff"/><circle cx="384.53" cy="485.84" r="3.10" fill="#0000ff"/><circle cx="384.53" cy="477.64" r="3.10" fill="#000080"/><circle cx="384.73" cy="537.91" r="3.10" fill="#000080"/><circle cx="384.73" cy="520.23" r="3.10" fill="#e8b914"/><circle cx="384.73" cy="506.52" r="3.10" fill="#0080ff"/><circle cx="384.73" cy="495.32" r="3.10" fill="#0000ff"/><circle cx="384.73" cy="485.84" r="3.10" fill="#0000ff"/><circle cx="384.93" cy="520.23" r="3.10" fill="#0000ff"/><circle cx="384.93" cy="506.52" r="3.10" fill="#0080ff"/><circle cx="384.93" cy="495.32" r="3.10" fill="#0000ff"/><circle cx="384.93" cy="485.84" r="3.10" fill="#0000ff"/><circle cx="377.44" cy="485.84" r="3.10" fill="#000080"/></g>
<g stroke="#000" stroke-width="0.7" stroke-dasharray="1.39 4.17" fill="none"><line x1="139.5" y1="719.5" x2="139.5" y2="436.5"/><line x1="191.5" y1="719.5" x2="191.5" y2="436.5"/><line x1="242.5" y1="719.5" x2="242.5" y2="436.5"/><line x1="294.5" y1="719.5" x2="294.5" y2="436.5"/><line x1="346.5" y1="719.5" x2="346.5" y2="436.5"/><line x1="87.5" y1="578.5" x2="398.5" y2="578.5"/></g>
<path d="M87.5 719.5v-5.56M87.5 436.5v5.56M139.5 719.5v-5.56M139.5 436.5v5.56M191.5 719.5v-5.56M191.5 436.5v5.56M242.5 719.5v-5.56M242.5 436.5v5.56M294.5 719.5v-5.56M294.5 436.5v5.56M346.5 719.5v-5.56M346.5 436.5v5.56M398.5 719.5v-5.56M398.5 436.5v5.56M87.5 719.5h5.56M398.5 719.5h-5.56M87.5 677.5h2.78M398.5 677.5h-2.78M87.5 652.5h2.78M398.5 652.5h-2.78M87.5 634.5h2.78M398.5 634.5h-2.78M87.5 620.5h2.78M398.5 620.5h-2.78M87.5 609.5h2.78M398.5 609.5h-2.78M87.5 600.5h2.78M398.5 600.5h-2.78M87.5 592.5h2.78M398.5 592.5h-2.78M87.5 584.5h2.78M398.5 584.5h-2.78M87.5 578.5h5.56M398.5 578.5h-5.56M87.5 535.5h2.78M398.5 535.5h-2.78M87.5 510.5h2.78M398.5 510.5h-2.78M87.5 493.5h2.78M398.5 493.5h-2.78M87.5 479.5h2.78M398.5 479.5h-2.78M87.5 468.5h2.78M398.5 468.5h-2.78M87.5 458.5h2.78M398.5 458.5h-2.78M87.5 450.5h2.78M398.5 450.5h-2.78M87.5 443.5h2.78M398.5 443.5h-2.78" stroke="#000" stroke-width="1" fill="none"/>
<rect x="87.5" y="436.5" width="311.0" height="283.0" fill="none" stroke="#000" stroke-width="1.39"/>
<g font-family="'DejaVu Sans','Liberation Sans',sans-serif" fill="#000"><text transform="translate(87.00 740.60) scale(1 0.930)" text-anchor="middle" font-size="22.2"><tspan dy="-0.8">−</tspan><tspan dx="-1" dy="0.8">2</tspan></text><text transform="translate(139.33 740.60) scale(1 0.930)" text-anchor="middle" font-size="22.2">0</text><text transform="translate(191.17 740.60) scale(1 0.930)" text-anchor="middle" font-size="22.2">2</text><text transform="translate(243.00 740.60) scale(1 0.930)" text-anchor="middle" font-size="22.2">4</text><text transform="translate(294.83 740.60) scale(1 0.930)" text-anchor="middle" font-size="22.2">6</text><text transform="translate(346.67 740.60) scale(1 0.930)" text-anchor="middle" font-size="22.2">8</text><text transform="translate(397.60 740.60) scale(1 0.930)" text-anchor="middle" font-size="22.2">10</text><text transform="translate(44.00 445.80) scale(1 0.930)" font-size="22.2">10</text><text transform="translate(72.25 433.34) scale(1 1.100)" font-size="15.2">3</text><text transform="translate(44.00 587.80) scale(1 0.930)" font-size="22.2">10</text><text transform="translate(72.25 575.34) scale(1 1.100)" font-size="15.2">2</text><text transform="translate(44.00 728.80) scale(1 0.930)" font-size="22.2">10</text><text transform="translate(72.25 716.34) scale(1 1.100)" font-size="15.2">1</text></g>
<g font-family="'DejaVu Sans','Liberation Sans',sans-serif" fill="#000"><text transform="translate(243.00 767.80) scale(1 0.930)" text-anchor="middle" font-size="22.2">time (s)</text><text transform="translate(31.00 578.70) rotate(-90) scale(1 0.930)" text-anchor="middle" font-size="22.2">frequency (Hz)</text></g>
<rect x="417.5" y="436.5" width="14.0" height="283.0" fill="url(#jetg)"/>
<path d="M431.5 684.5h-5.56M431.5 648.5h-5.56M431.5 613.5h-5.56M431.5 578.5h-5.56M431.5 542.5h-5.56M431.5 507.5h-5.56M431.5 471.5h-5.56" stroke="#000" stroke-width="1" fill="none"/>
<rect x="417.5" y="436.5" width="14.0" height="283.0" fill="none" stroke="#000" stroke-width="1.39"/>
<g font-family="'DejaVu Sans','Liberation Sans',sans-serif" fill="#000"><text transform="translate(435.90 725.20) scale(1 1.070)" font-size="16.67">1</text><text transform="translate(435.90 689.83) scale(1 1.070)" font-size="16.67">2</text><text transform="translate(435.90 654.45) scale(1 1.070)" font-size="16.67">3</text><text transform="translate(436.60 619.08) scale(1 1.070)" font-size="16.67">4</text><text transform="translate(435.90 582.60) scale(1 1.070)" font-size="16.67">5</text><text transform="translate(435.90 548.33) scale(1 1.070)" font-size="16.67">6</text><text transform="translate(435.90 512.95) scale(1 1.070)" font-size="16.67">7</text><text transform="translate(435.90 477.57) scale(1 1.070)" font-size="16.67">8</text><text transform="translate(435.90 442.20) scale(1 1.070)" font-size="16.67">9</text><text transform="translate(466.00 579.00) rotate(-90) scale(1 1.070)" text-anchor="middle" font-size="16.67">number of ancestors</text></g>
</svg>
</body></html>
